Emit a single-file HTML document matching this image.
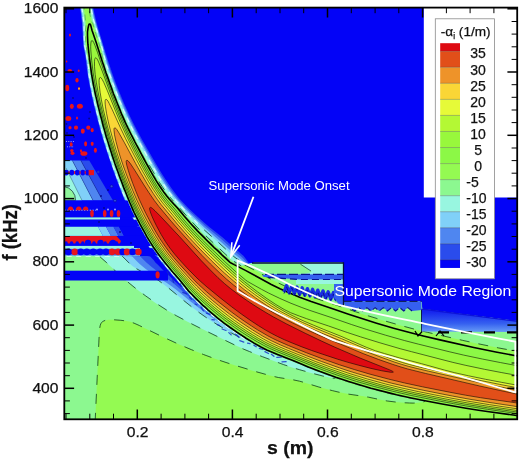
<!DOCTYPE html>
<html><head><meta charset="utf-8"><title>Growth rate contours</title>
<style>html,body{margin:0;padding:0;background:#fff}svg{display:block}text{font-family:"Liberation Sans",Arial,sans-serif}.k text{stroke:#111;stroke-width:.25px}</style>
</head><body>
<svg width="520" height="461" viewBox="0 0 520 461">
<rect width="520" height="461" fill="#fff"/>
<defs><clipPath id="pc"><rect x="64.3" y="7.6" width="452.9" height="411.7"/></clipPath></defs>
<g clip-path="url(#pc)">
<rect x="60" y="4" width="460" height="420" fill="#0303f7"/>
<path fill="#2a4cec" fill-rule="evenodd" d="M519.3,460.6L519.0,460.7L518.2,460.9L516.2,460.9L4.3,460.9L1.4,460.8L0.7,460.5L0.5,460.3L0.3,460.0L0.2,459.2L0.1,457.2L0.1,259.8L0.2,257.3L0.5,256.6L0.7,256.3L1.0,256.1L1.8,255.9L4.3,255.8L123.2,255.9L142.2,256.0L147.2,256.1L149.1,256.3L149.9,256.5L150.4,256.8L153.6,260.1L155.4,262.4L157.6,264.6L164.9,271.9L167.6,274.1L174.2,280.6L176.4,282.4L180.4,286.3L181.1,286.7L181.4,286.6L181.3,286.2L181.0,285.7L179.2,283.5L166.1,268.1L161.8,262.9L157.5,257.3L156.7,256.6L154.8,255.5L153.8,254.5L149.9,248.9L147.2,244.6L142.7,237.1L137.3,227.4L132.8,218.5L129.0,210.7L127.2,206.6L120.9,190.9L116.7,180.1L113.1,170.2L105.6,147.7L102.0,135.8L99.8,128.4L97.7,120.6L93.6,104.2L91.2,93.5L90.1,88.1L88.7,81.0L87.7,74.6L86.7,67.6L85.4,56.4L83.2,45.1L83.0,38.3L82.7,35.7L82.5,30.3L82.2,27.2L82.0,23.8L81.0,14.3L79.1,1.8L79.0,1.0L79.1,0.5L79.6,0.3L81.3,0.2L89.7,0.2L90.7,0.3L91.4,0.5L91.7,0.7L92.1,1.2L92.4,2.4L94.3,13.0L96.2,21.1L98.4,28.9L104.9,50.4L108.9,63.3L112.7,74.5L116.3,84.4L120.5,94.8L124.3,103.9L129.0,114.2L133.4,123.3L137.0,130.2L142.3,139.9L155.8,163.4L161.6,173.2L166.4,180.8L171.7,188.6L176.6,195.1L179.5,198.7L182.1,201.6L188.3,208.0L195.7,215.0L204.9,223.3L209.3,227.0L222.7,237.6L232.5,246.3L241.9,254.4L243.4,255.8L244.8,257.5L246.3,259.4L248.6,262.7L249.2,263.3L249.8,263.5L250.4,263.5L253.4,262.7L254.8,262.5L263.7,262.5L268.2,262.4L339.7,262.3L342.2,262.5L342.9,262.8L343.2,263.1L343.5,263.8L343.6,264.8L343.7,299.2L343.8,300.5L344.0,300.8L344.5,301.2L345.3,301.3L346.8,301.3L420.2,301.4L421.1,301.6L421.4,301.8L421.9,302.4L422.1,303.8L422.2,307.2L422.3,308.0L422.5,308.3L423.0,308.7L424.5,309.2L431.2,310.0L432.9,310.3L435.2,310.5L436.9,310.8L439.2,311.0L440.9,311.3L443.2,311.5L448.4,312.3L450.2,312.4L456.4,313.3L458.7,313.5L460.4,313.8L462.7,314.0L464.4,314.3L466.7,314.5L468.4,314.8L470.7,315.0L472.4,315.3L474.7,315.5L476.4,315.8L478.7,316.0L480.4,316.3L482.7,316.5L484.4,316.8L486.7,317.0L488.4,317.3L490.7,317.5L495.9,318.3L497.7,318.4L499.9,318.8L501.7,318.9L503.9,319.3L505.7,319.4L507.9,319.8L509.7,319.9L511.9,320.3L517.7,320.9L518.5,321.1L519.2,321.5L519.4,321.7L519.7,322.4L519.9,324.3L520.0,396.8L519.9,417.7L519.9,458.2L519.8,459.6L519.6,460.3L519.3,460.6Z"/>
<path fill="#4f86f0" fill-rule="evenodd" d="M519.3,460.5L519.0,460.7L518.2,460.8L516.2,460.9L3.8,460.8L1.4,460.8L0.7,460.5L0.5,460.3L0.3,460.0L0.2,459.2L0.2,457.2L0.2,259.8L0.2,257.3L0.5,256.6L0.7,256.4L1.0,256.2L1.8,256.0L4.8,255.9L120.2,256.0L134.7,256.1L138.2,256.2L139.6,256.3L140.2,256.6L140.8,257.0L146.4,262.4L151.7,267.0L157.6,271.6L169.7,280.6L174.2,284.1L177.2,286.6L186.0,294.3L191.1,298.7L198.5,304.5L190.0,295.7L186.7,292.1L178.9,282.4L170.5,272.7L165.7,267.0L161.9,262.3L158.0,257.3L157.2,256.5L155.5,255.7L154.7,255.1L153.6,253.7L150.9,249.8L147.4,244.3L142.2,235.5L137.9,227.8L134.1,220.6L130.7,213.5L127.9,207.4L120.8,189.9L116.7,179.1L112.2,166.6L107.5,152.7L103.8,140.9L100.9,130.9L97.9,119.9L94.3,105.5L91.7,94.1L89.9,85.3L88.4,77.3L87.6,71.7L87.2,67.0L85.7,56.1L83.6,45.2L82.5,24.3L81.4,14.3L79.6,2.2L79.6,1.4L79.9,0.7L80.4,0.4L81.3,0.2L88.7,0.2L90.5,0.4L90.8,0.5L91.3,1.0L91.6,2.1L93.6,13.1L95.4,20.8L97.9,29.3L101.9,42.3L107.6,62.1L109.8,68.9L113.0,78.2L116.2,86.6L119.4,94.8L123.6,104.7L127.4,113.3L131.3,121.5L135.8,130.5L141.4,140.8L154.3,163.5L159.8,172.9L164.4,180.3L167.4,184.9L170.2,189.0L172.8,192.5L175.4,195.8L178.4,199.4L181.5,202.8L186.1,207.7L190.0,211.7L196.9,218.3L205.0,225.7L209.9,229.8L220.6,238.6L235.4,251.8L241.4,256.8L243.7,259.0L246.7,262.5L247.4,263.3L248.0,263.6L249.2,263.7L250.8,263.5L253.1,262.8L254.3,262.6L263.7,262.6L268.2,262.4L339.7,262.4L342.2,262.6L342.9,262.9L343.1,263.1L343.4,263.8L343.5,264.8L343.6,299.2L343.8,300.5L343.9,300.8L344.5,301.2L345.3,301.4L346.8,301.4L420.2,301.5L421.1,301.7L421.4,301.9L421.8,302.4L422.0,303.8L422.1,307.2L422.3,308.0L422.4,308.4L422.9,308.8L424.4,309.3L431.2,310.1L432.9,310.3L435.2,310.6L436.9,310.8L439.2,311.1L440.9,311.3L443.2,311.6L448.4,312.3L458.7,313.6L460.4,313.8L462.7,314.1L464.4,314.3L466.7,314.6L468.4,314.8L470.7,315.1L472.4,315.3L474.7,315.6L476.4,315.8L478.7,316.1L480.4,316.3L482.7,316.6L484.4,316.8L486.7,317.1L488.4,317.3L490.7,317.6L495.9,318.3L498.2,318.6L499.9,318.8L502.2,319.1L503.9,319.3L506.2,319.6L507.9,319.8L517.7,321.0L518.9,321.3L519.4,321.8L519.6,322.1L519.8,322.8L519.8,324.3L520.0,400.7L519.9,417.7L519.9,458.2L519.8,459.6L519.5,460.3L519.3,460.5Z"/>
<path fill="#80d0f8" fill-rule="evenodd" d="M519.3,460.5L519.0,460.7L518.2,460.8L516.2,460.8L3.8,460.8L1.4,460.7L0.7,460.5L0.5,460.3L0.4,460.0L0.2,459.2L0.2,457.2L0.2,259.8L0.3,257.4L0.5,256.7L0.7,256.4L1.4,256.1L3.3,256.0L74.7,256.0L122.7,256.1L130.2,256.2L131.1,256.3L131.9,256.5L132.5,256.8L133.0,257.3L136.6,261.1L139.4,263.8L142.1,266.1L145.7,269.0L148.9,271.3L151.9,273.4L166.5,282.7L171.9,286.4L175.9,289.4L191.2,302.0L204.3,312.0L209.2,315.6L213.6,318.6L217.3,320.9L218.9,321.8L219.4,322.0L209.3,313.4L202.7,307.5L196.5,301.7L191.0,296.2L188.1,293.1L186.0,290.7L179.2,282.1L170.8,272.4L165.8,266.5L158.3,257.0L157.4,256.3L155.7,255.5L155.2,255.1L154.7,254.5L151.4,249.8L148.8,245.9L144.5,238.7L140.5,231.8L137.3,225.9L134.4,220.3L131.2,213.6L128.2,207.1L122.3,192.5L117.5,180.2L112.9,167.4L108.6,154.7L104.3,141.0L100.5,128.2L97.2,115.6L93.7,101.1L91.1,89.2L89.0,78.3L87.9,70.9L87.8,69.7L87.9,67.7L87.7,66.1L86.0,55.2L84.1,45.6L84.0,43.7L83.7,39.6L83.2,24.1L82.0,14.2L80.3,2.1L80.2,1.3L80.4,0.7L81.0,0.4L81.8,0.2L88.2,0.2L89.2,0.3L89.9,0.5L90.2,0.7L90.6,1.2L90.9,2.3L92.9,13.3L94.6,20.6L95.7,24.0L97.2,29.1L101.4,42.8L107.1,63.6L109.5,70.8L112.6,79.7L115.4,87.3L118.5,95.2L122.6,105.1L126.7,114.5L130.6,122.7L134.4,130.3L140.2,141.1L151.6,161.6L157.3,171.4L162.2,179.5L165.4,184.4L168.2,188.5L171.1,192.6L173.8,196.0L179.6,202.6L185.8,209.4L190.8,214.5L199.1,222.6L204.3,227.4L219.9,240.9L235.1,254.6L241.3,259.4L245.9,263.8L246.9,264.2L248.0,264.1L251.2,263.5L253.5,262.8L255.3,262.6L269.7,262.5L339.7,262.5L342.1,262.6L342.8,262.9L343.1,263.2L343.3,263.5L343.4,264.3L343.5,299.2L343.7,300.5L343.9,300.9L344.5,301.3L345.3,301.5L347.3,301.5L420.2,301.6L421.0,301.7L421.3,301.9L421.8,302.5L421.9,303.8L422.0,307.2L422.2,308.1L422.4,308.4L422.9,308.9L424.4,309.4L431.1,310.1L432.9,310.4L435.1,310.6L436.9,310.9L439.1,311.1L440.9,311.4L443.1,311.6L448.4,312.4L458.6,313.6L460.4,313.9L462.6,314.1L464.4,314.4L466.6,314.6L468.4,314.9L470.6,315.1L472.4,315.4L474.6,315.6L476.4,315.9L478.6,316.1L480.4,316.4L482.6,316.6L484.4,316.9L486.6,317.1L488.4,317.4L490.6,317.6L495.9,318.4L498.1,318.6L499.9,318.9L502.1,319.1L503.9,319.4L506.1,319.6L507.9,319.9L517.7,321.1L518.9,321.4L519.4,321.8L519.6,322.1L519.7,322.8L519.8,324.3L519.9,400.2L519.8,417.7L519.8,458.2L519.8,459.6L519.5,460.3L519.3,460.5Z"/>
<path fill="#98f6e0" fill-rule="evenodd" d="M519.3,460.5L519.0,460.7L518.2,460.8L516.2,460.8L3.8,460.8L1.4,460.7L0.7,460.5L0.5,460.3L0.3,459.6L0.2,457.7L0.2,259.3L0.2,257.8L0.4,257.0L0.7,256.5L1.0,256.3L1.8,256.2L3.8,256.1L97.7,256.1L119.7,256.2L121.2,256.3L122.0,256.4L122.6,256.7L123.1,257.1L130.7,264.6L132.4,265.9L134.7,267.6L137.8,269.5L145.9,273.9L148.9,275.4L152.7,277.1L155.1,278.2L156.6,279.2L161.6,282.7L165.8,285.9L170.9,289.9L183.5,300.3L191.2,306.5L199.2,312.6L206.5,317.7L212.9,321.9L217.8,324.9L232.0,333.3L236.5,335.8L240.4,337.8L244.6,339.7L246.5,340.5L246.9,340.5L237.5,334.3L229.8,329.0L222.9,323.9L216.2,318.6L208.8,312.4L200.9,305.3L194.3,299.0L188.7,293.1L185.6,289.6L179.4,281.8L166.8,267.0L163.0,262.3L159.0,257.2L158.5,256.7L157.9,256.3L156.5,255.6L156.0,255.3L154.4,253.4L151.6,249.2L149.4,245.9L143.4,235.9L138.5,227.2L132.8,216.0L130.7,211.6L128.4,206.4L123.1,193.2L117.8,179.5L113.0,166.3L107.6,150.2L103.4,136.4L99.8,123.6L95.8,108.0L92.8,95.0L91.3,88.0L89.8,80.0L88.8,74.0L88.3,70.6L88.5,67.7L88.3,65.9L86.5,55.2L84.7,45.6L84.4,42.7L84.1,34.7L84.0,30.7L84.0,26.3L83.9,24.3L82.9,15.3L81.0,1.8L80.9,1.1L81.1,0.6L81.5,0.3L82.3,0.2L87.7,0.2L89.0,0.4L89.3,0.6L89.7,1.1L90.0,2.2L92.2,13.6L93.7,20.5L94.1,21.7L94.9,23.8L96.5,29.3L100.6,42.6L102.4,48.9L105.3,60.5L106.4,64.8L109.1,72.7L112.2,81.5L117.7,96.0L122.2,107.0L125.7,115.0L129.5,123.2L133.5,131.2L139.4,142.4L149.7,161.0L154.4,169.3L159.5,177.8L162.6,182.7L165.9,187.8L169.1,192.2L171.5,195.3L173.7,198.0L177.0,201.8L186.8,212.5L190.4,216.3L198.4,224.3L202.8,228.5L207.7,233.0L218.6,242.6L233.2,256.0L234.9,257.4L239.9,260.9L243.7,264.0L244.3,264.4L244.9,264.6L246.0,264.6L250.8,263.6L253.5,262.8L255.3,262.7L339.2,262.6L342.1,262.7L342.8,263.0L343.0,263.2L343.2,263.5L343.3,264.3L343.4,298.7L343.4,299.7L343.6,300.6L343.8,300.9L344.4,301.4L345.3,301.6L346.8,301.6L418.2,301.6L420.6,301.7L421.3,302.0L421.5,302.2L421.8,302.9L421.9,306.7L422.1,308.1L422.3,308.4L422.9,308.9L424.4,309.4L431.1,310.2L433.3,310.6L435.1,310.7L437.3,311.1L439.1,311.2L441.3,311.6L443.1,311.7L448.3,312.5L450.6,312.7L452.3,313.0L454.6,313.2L456.3,313.5L458.6,313.7L460.3,314.0L462.6,314.2L464.3,314.5L466.6,314.7L468.3,315.0L470.6,315.2L472.3,315.5L474.6,315.7L476.3,316.0L478.6,316.2L484.8,317.1L486.6,317.2L488.3,317.5L490.6,317.7L495.8,318.5L498.1,318.7L499.8,319.0L502.1,319.2L503.8,319.5L506.1,319.7L507.8,320.0L517.7,321.2L518.8,321.4L519.4,321.8L519.5,322.1L519.7,322.9L519.8,324.3L519.9,400.2L519.8,417.7L519.8,458.2L519.7,460.0L519.3,460.5Z"/>
<path fill="#8cf890" fill-rule="evenodd" d="M519.3,460.5L519.0,460.6L518.2,460.8L516.2,460.8L3.8,460.8L1.4,460.7L0.7,460.5L0.5,460.3L0.3,459.6L0.2,457.7L0.2,259.3L0.3,257.8L0.4,257.0L0.7,256.5L1.0,256.4L1.8,256.3L3.3,256.2L95.7,256.2L98.2,256.3L99.4,256.5L100.2,257.0L106.4,262.4L111.2,267.1L114.6,270.1L118.2,273.6L126.7,281.1L135.2,288.0L139.7,291.5L146.0,296.2L151.6,300.2L156.3,303.4L160.5,306.2L167.0,310.3L176.5,315.8L182.3,319.0L189.5,322.8L199.2,327.6L237.5,346.3L247.2,350.6L253.5,353.2L260.0,355.8L282.5,364.2L288.9,366.4L296.9,368.9L310.1,372.7L320.7,375.5L326.0,376.7L331.0,377.8L333.9,378.3L334.7,378.3L332.6,377.3L323.8,374.1L314.4,370.4L295.2,362.6L279.0,356.2L272.3,353.4L266.5,350.8L262.4,348.8L258.8,346.9L249.4,341.4L239.0,334.7L228.6,327.6L224.0,324.2L219.5,320.7L214.5,316.7L209.7,312.6L204.4,307.9L199.4,303.3L195.1,299.2L191.1,295.1L186.9,290.4L179.7,281.5L171.2,271.6L165.7,265.0L159.3,256.9L157.2,254.5L152.5,247.8L149.7,243.5L146.2,237.6L142.9,231.9L139.9,226.4L136.6,220.2L134.0,214.8L131.4,209.3L129.3,204.5L121.4,184.8L118.1,176.1L115.4,168.4L111.9,158.3L108.6,148.1L105.9,139.4L103.3,130.5L100.8,121.5L98.1,111.1L95.9,101.8L93.8,92.4L91.3,79.9L89.7,69.6L89.2,67.1L87.1,55.2L85.4,46.3L85.1,43.2L84.7,35.1L84.7,31.3L84.9,26.2L84.8,23.9L83.9,16.3L81.9,1.9L81.9,1.1L82.0,0.6L82.5,0.3L83.3,0.2L86.7,0.2L87.9,0.5L88.2,0.6L88.6,1.1L89.0,2.3L91.3,14.4L92.8,20.9L93.2,22.1L94.3,24.5L95.7,29.6L98.8,39.4L100.3,44.4L101.8,50.0L105.0,63.2L105.2,64.3L105.2,65.8L105.4,66.9L109.9,79.9L114.2,91.6L118.0,101.3L121.9,110.9L125.7,119.6L129.5,127.7L134.0,136.7L138.5,145.3L147.3,161.5L152.9,171.4L156.8,178.0L160.4,183.8L164.2,189.5L167.6,194.2L171.4,198.9L179.3,207.5L186.5,215.8L195.1,225.1L202.8,232.9L211.3,240.9L230.2,258.6L231.8,260.0L233.0,260.8L240.2,265.1L241.1,265.5L241.7,265.6L243.2,265.4L247.2,264.5L251.2,263.6L253.5,262.9L254.8,262.7L339.7,262.7L342.1,262.8L342.8,263.0L343.0,263.2L343.1,263.5L343.2,264.3L343.3,298.7L343.4,299.7L343.6,300.6L343.8,300.9L344.4,301.4L345.3,301.6L347.3,301.7L418.2,301.7L420.6,301.8L421.3,302.0L421.6,302.5L421.7,303.3L421.8,306.7L422.0,308.1L422.2,308.5L422.8,309.0L424.4,309.5L427.1,309.8L429.3,310.2L431.1,310.3L433.3,310.7L435.1,310.8L437.3,311.2L439.1,311.3L441.3,311.7L443.1,311.8L448.8,312.7L454.6,313.3L456.8,313.7L458.6,313.8L460.8,314.2L462.6,314.3L464.8,314.7L466.6,314.8L468.8,315.2L470.6,315.3L472.8,315.7L474.6,315.8L476.8,316.2L478.6,316.3L480.8,316.7L482.6,316.8L484.8,317.2L486.6,317.3L488.8,317.7L490.6,317.8L496.3,318.7L498.1,318.8L500.3,319.2L502.1,319.3L504.3,319.7L506.1,319.8L508.3,320.2L510.1,320.3L512.3,320.7L518.1,321.3L518.8,321.5L519.3,321.9L519.5,322.2L519.7,322.9L519.8,324.3L519.9,399.7L519.8,417.7L519.8,458.2L519.6,460.0L519.3,460.5Z"/>
<path fill="#94fa52" fill-rule="evenodd" d="M519.3,460.5L519.0,460.6L518.2,460.7L516.2,460.8L109.7,460.8L95.8,460.7L94.4,460.6L93.8,460.3L93.6,460.0L93.4,459.2L93.5,457.2L99.2,334.9L99.6,329.3L99.9,327.1L100.3,325.1L100.9,323.6L101.7,322.4L102.5,321.7L103.7,321.0L105.2,320.4L107.2,320.0L109.0,319.8L112.7,319.7L120.9,320.3L124.2,320.6L127.6,321.2L129.2,321.5L131.1,322.1L134.1,323.2L139.3,325.5L153.0,332.3L159.8,335.5L166.9,338.9L177.5,343.7L191.2,349.6L203.7,354.6L215.7,359.1L230.0,363.8L238.4,366.4L256.1,371.7L269.8,375.5L274.2,376.6L278.3,377.5L293.0,379.8L299.6,381.2L303.9,382.4L318.8,387.0L323.5,388.3L332.2,390.6L340.7,392.6L348.3,394.1L363.5,396.3L368.6,397.2L381.8,400.0L387.3,401.0L395.3,402.0L400.8,402.6L408.8,403.0L412.2,403.1L415.7,403.0L419.7,402.6L423.6,401.9L424.1,401.7L424.3,401.5L424.0,401.2L422.1,400.8L408.4,397.9L397.7,395.6L384.0,392.2L374.5,389.7L364.4,386.9L355.9,384.4L346.3,381.4L332.2,376.6L316.9,370.9L307.9,367.3L294.8,361.9L277.6,355.2L272.3,353.0L267.1,350.6L262.7,348.5L258.5,346.2L252.8,342.9L246.9,339.3L240.8,335.4L234.5,331.2L228.9,327.3L223.7,323.5L219.0,319.8L213.7,315.5L208.6,311.1L203.6,306.7L199.2,302.6L194.6,298.1L190.5,293.8L187.4,290.4L180.3,281.5L168.5,267.8L164.4,262.8L160.9,258.3L157.0,253.2L153.3,247.9L150.8,244.0L147.4,238.4L142.8,230.4L139.0,223.3L135.1,215.6L131.9,208.8L129.5,203.3L124.0,189.7L120.3,180.0L117.2,171.6L113.4,160.8L109.7,149.5L106.4,138.8L103.3,128.0L100.6,118.1L97.4,105.3L95.2,95.6L93.2,86.1L91.7,78.1L90.4,69.8L89.7,66.5L86.1,45.2L85.7,40.0L85.5,32.8L85.6,30.3L86.0,26.2L86.0,24.3L85.5,19.3L83.3,2.5L83.2,1.3L83.5,0.7L83.7,0.5L84.4,0.3L85.2,0.3L86.1,0.4L86.7,0.7L86.9,0.9L87.3,1.5L90.2,15.5L91.4,20.8L91.8,22.0L92.7,23.5L93.2,24.6L94.5,29.7L97.5,38.7L98.8,42.9L100.3,48.4L104.1,63.6L104.6,66.6L105.1,68.2L111.9,87.4L115.5,97.2L118.6,105.1L121.9,112.9L124.7,119.5L127.7,126.0L131.2,133.1L138.5,147.3L149.7,168.0L156.4,179.4L159.5,184.3L162.4,188.8L166.4,194.3L169.5,198.2L178.3,207.9L184.1,214.7L188.3,219.5L195.5,227.3L202.1,234.1L209.9,241.8L229.5,260.3L230.6,261.2L231.5,261.8L238.2,265.5L239.4,266.1L240.1,266.1L240.8,266.1L244.4,265.4L245.0,265.4L246.0,265.7L254.3,270.0L271.3,279.4L278.6,283.1L284.7,286.0L290.6,288.6L296.2,291.0L303.4,293.8L309.9,296.3L315.9,298.4L335.8,304.9L351.0,310.2L363.0,314.2L373.3,317.4L384.1,320.7L395.3,323.9L406.3,327.0L417.8,330.0L429.0,332.7L466.5,341.3L478.8,343.9L491.7,346.6L503.4,348.8L517.7,351.5L518.5,351.7L519.2,352.0L519.4,352.2L519.6,352.9L519.8,354.8L519.9,397.2L519.8,418.2L519.8,458.2L519.6,460.0L519.3,460.5Z"/>
<path fill="#8cf846" fill-rule="evenodd" d="M519.3,415.5L518.7,415.7L518.0,415.6L507.0,414.2L485.5,411.2L469.0,408.7L457.0,406.6L443.5,404.2L425.0,400.7L410.0,397.7L396.5,394.7L390.0,393.1L376.9,389.8L371.0,388.2L360.1,385.1L348.6,381.6L335.8,377.3L320.1,371.6L308.3,366.9L295.5,361.6L277.6,354.6L271.6,352.1L266.8,349.9L261.4,347.3L254.1,343.1L245.7,338.0L237.6,332.6L230.2,327.5L224.4,323.3L217.4,317.8L207.9,309.8L205.1,307.2L202.9,305.4L195.3,297.9L188.7,291.1L186.2,288.1L181.6,282.2L179.3,279.5L173.9,273.4L165.9,263.8L161.9,258.8L157.2,252.5L153.5,247.3L150.4,242.4L147.2,237.1L143.1,229.7L139.9,223.9L134.2,212.6L131.4,206.4L129.8,202.5L123.9,187.9L119.8,177.0L114.9,163.4L111.3,152.6L106.4,136.9L103.3,126.0L101.8,120.5L99.3,110.6L95.9,96.4L93.8,86.5L91.8,75.5L90.8,68.5L89.3,57.0L88.4,49.3L87.9,44.2L87.5,35.7L87.5,31.8L87.7,29.9L88.0,28.3L88.7,25.1L89.0,24.4L89.2,24.1L89.4,24.0L90.0,24.0L90.2,24.2L90.6,24.8L92.0,30.3L94.1,36.2L96.2,42.6L101.8,59.9L106.1,73.0L109.5,82.7L113.5,93.7L117.2,103.0L121.3,113.4L124.8,121.4L127.8,127.9L135.0,142.2L144.2,159.5L149.5,169.2L153.3,175.9L156.9,181.8L160.4,187.3L163.7,192.0L166.7,196.0L169.4,199.3L171.6,201.6L173.9,204.3L177.4,207.9L183.7,215.6L190.2,223.0L193.4,226.4L197.2,230.6L209.9,243.4L214.2,247.6L217.4,250.4L221.9,254.8L226.4,258.9L229.1,261.6L230.6,262.7L233.8,264.5L245.4,270.4L251.9,273.8L271.0,284.3L280.0,288.8L289.6,293.1L299.6,297.2L311.2,301.6L334.1,309.2L348.2,314.1L358.7,317.6L376.2,323.1L390.9,327.4L408.9,332.4L423.3,336.0L439.9,339.9L473.8,347.5L493.3,351.5L517.7,356.1L518.8,356.4L519.3,356.8L519.5,357.1L519.7,357.8L519.8,359.3L519.8,408.8L519.7,414.2L519.6,415.0L519.3,415.5Z"/>
<path fill="#98f83c" fill-rule="evenodd" d="M519.4,413.5L518.8,413.7L517.7,413.6L503.2,411.6L484.4,408.9L468.8,406.4L448.1,402.7L426.7,398.6L413.3,395.9L403.5,393.8L394.5,391.7L386.1,389.6L376.2,387.0L366.4,384.3L357.2,381.6L348.4,378.9L339.7,376.0L325.0,370.7L309.5,364.7L296.8,359.5L283.2,354.1L276.4,351.3L269.5,348.3L263.5,345.3L257.4,341.9L249.9,337.4L242.2,332.5L234.5,327.3L227.8,322.5L222.4,318.4L216.0,313.3L209.8,308.0L204.2,303.0L199.0,298.2L194.2,293.5L190.1,289.1L187.8,286.5L182.2,279.6L174.2,270.5L169.4,264.8L164.7,259.0L160.8,253.9L157.0,248.7L154.0,244.3L149.8,237.5L146.1,231.2L142.2,224.1L138.9,217.8L135.6,211.1L132.7,205.0L127.3,191.9L123.3,181.9L119.4,171.4L115.6,160.7L111.4,147.9L107.8,136.4L104.6,125.2L101.7,114.1L98.9,102.8L96.7,92.6L94.6,81.7L93.1,72.6L91.7,60.6L91.2,55.2L90.8,49.9L90.7,46.7L90.8,43.9L91.1,41.8L91.5,40.8L91.9,40.5L92.1,40.5L92.4,40.6L92.8,41.0L93.7,42.5L94.9,45.3L97.6,52.7L106.7,79.1L112.6,95.6L118.6,111.1L121.6,118.2L124.3,124.4L127.5,131.3L131.2,139.0L135.8,148.0L140.7,157.5L145.3,166.0L149.0,172.7L152.7,179.1L156.3,185.0L161.5,192.8L164.0,196.3L166.2,199.1L168.9,202.3L175.7,210.0L184.8,220.9L192.3,229.4L201.1,238.6L210.6,248.1L227.5,264.2L237.5,273.2L244.8,279.4L246.8,280.9L248.0,281.7L260.2,288.5L267.0,292.2L274.0,295.7L281.5,299.2L287.1,301.6L292.8,304.0L306.1,309.1L313.6,311.7L331.2,317.5L344.6,322.2L353.9,325.3L372.9,331.3L392.6,337.2L408.6,341.6L428.2,346.5L453.9,352.8L469.4,356.3L489.3,360.4L502.7,363.0L517.5,365.8L519.0,366.2L519.5,366.7L519.6,367.0L519.8,368.8L519.8,408.8L519.7,412.6L519.5,413.3L519.4,413.5Z"/>
<path fill="#b4f834" fill-rule="evenodd" d="M519.3,412.0L518.8,412.2L518.1,412.2L511.1,411.2L487.1,407.7L469.8,405.0L449.4,401.3L428.5,397.3L414.8,394.5L404.9,392.4L395.9,390.3L387.9,388.3L378.8,385.9L369.4,383.4L360.1,380.7L351.3,378.0L342.6,375.1L327.5,369.8L311.2,363.6L279.2,350.6L271.9,347.4L266.1,344.6L260.6,341.6L253.7,337.6L246.6,333.2L239.4,328.4L232.9,323.9L226.8,319.5L221.1,315.1L215.3,310.4L209.1,305.1L202.5,299.2L197.2,294.1L192.0,288.8L189.1,285.6L183.0,278.3L172.5,266.3L168.4,261.4L164.8,256.9L160.5,251.2L156.8,246.0L154.0,241.7L150.4,235.8L146.4,228.9L143.0,222.8L139.2,215.5L136.1,209.2L132.8,202.0L127.2,188.5L123.2,178.5L119.0,167.2L115.6,157.2L111.9,145.9L108.6,135.1L105.8,125.0L102.9,113.9L100.0,101.7L98.0,91.8L96.4,82.8L95.2,74.6L94.5,66.7L94.4,63.7L94.5,61.3L94.7,59.4L95.0,58.3L95.5,57.9L95.7,57.9L96.3,58.1L96.7,58.5L97.7,60.1L98.9,62.8L101.5,69.3L111.3,95.9L116.3,108.9L119.1,115.7L121.9,122.3L127.6,134.7L131.0,141.7L135.4,150.4L144.7,168.1L148.6,175.1L151.9,180.8L155.0,185.8L158.1,190.7L162.6,197.2L166.3,201.9L174.2,211.0L180.1,218.2L184.7,223.6L190.1,229.7L196.1,236.2L201.7,242.0L208.5,248.8L224.8,264.5L232.9,271.8L241.0,278.8L250.9,286.8L260.3,294.0L268.8,300.0L277.3,305.4L284.2,309.5L289.9,312.3L298.1,315.6L305.5,318.3L328.3,325.9L346.9,332.4L360.8,336.9L371.5,340.3L382.6,343.6L394.6,347.1L404.4,349.8L444.9,360.4L458.9,363.8L472.1,366.7L485.7,369.5L500.8,372.5L517.7,375.6L518.8,375.9L519.3,376.3L519.5,376.6L519.7,377.3L519.8,378.8L519.8,409.2L519.7,411.1L519.5,411.8L519.3,412.0Z"/>
<path fill="#e6fa38" fill-rule="evenodd" d="M519.3,410.5L519.1,410.6L518.4,410.7L515.0,410.2L488.8,406.4L470.7,403.5L450.8,399.9L417.0,393.2L399.0,389.3L391.3,387.4L383.0,385.3L373.1,382.6L363.8,380.0L355.0,377.3L346.2,374.5L338.4,371.9L330.3,369.0L321.5,365.8L313.2,362.6L281.5,349.7L274.9,346.8L269.1,344.1L263.8,341.4L258.4,338.3L251.9,334.4L245.5,330.3L238.9,325.9L232.7,321.6L226.9,317.3L221.3,313.0L214.1,307.1L206.9,300.9L200.9,295.4L195.1,289.7L190.7,285.1L184.5,277.8L176.2,268.5L170.5,261.8L166.5,256.8L162.8,252.0L159.2,247.0L156.4,242.9L152.7,237.0L148.3,229.5L144.8,223.4L141.2,216.6L137.5,209.2L134.4,202.4L129.0,189.7L125.1,180.1L121.4,170.3L117.9,160.4L114.5,150.2L111.3,139.9L108.2,129.0L105.6,119.1L103.1,108.2L101.1,98.6L99.9,90.9L99.2,84.6L99.1,81.8L99.2,79.8L99.4,78.6L99.8,77.7L100.0,77.5L100.5,77.5L101.0,77.8L101.5,78.3L102.6,80.1L104.1,83.2L107.3,90.5L115.4,110.8L120.5,122.8L125.9,134.8L132.6,148.2L141.1,164.7L147.7,176.6L151.0,182.3L154.2,187.6L156.9,191.8L160.0,196.3L162.3,199.5L164.9,202.8L172.5,211.7L178.4,218.9L182.5,223.8L190.7,233.0L199.9,242.8L210.9,253.8L226.0,268.3L231.0,272.8L235.8,277.0L241.0,281.3L246.5,285.7L252.7,290.5L258.2,294.6L263.7,298.6L269.4,302.4L274.8,305.9L280.2,309.1L285.3,312.0L290.5,314.7L300.3,319.4L311.1,324.2L322.0,328.7L341.3,336.4L365.4,346.9L373.9,350.3L380.0,352.2L398.6,357.6L421.5,363.7L444.2,370.0L453.8,372.5L466.0,375.2L481.7,378.5L498.9,381.9L517.5,385.3L519.0,385.7L519.5,386.2L519.6,386.5L519.8,388.3L519.8,408.2L519.7,409.6L519.5,410.3L519.3,410.5Z"/>
<path fill="#fad636" fill-rule="evenodd" d="M519.3,408.7L519.0,408.8L518.2,408.9L516.5,408.7L490.4,404.9L473.2,402.1L462.9,400.3L452.4,398.4L421.1,392.2L403.4,388.3L395.3,386.4L387.3,384.4L377.8,381.9L368.4,379.3L359.5,376.7L350.8,374.0L342.1,371.1L333.9,368.3L325.1,365.1L316.0,361.7L307.8,358.5L285.4,349.4L278.7,346.5L272.9,343.9L268.2,341.6L263.6,339.1L258.2,336.0L252.6,332.6L246.8,328.9L240.5,324.7L234.6,320.6L228.9,316.4L223.8,312.5L218.5,308.3L213.3,304.0L207.9,299.3L202.9,294.8L198.8,291.0L194.5,286.7L191.6,283.6L185.6,276.7L179.2,269.6L174.3,264.0L169.5,258.2L165.3,252.9L161.1,247.2L157.4,241.8L153.4,235.4L148.8,227.5L145.0,220.7L141.4,213.8L138.0,206.8L135.0,200.3L130.1,188.7L126.2,179.1L122.6,169.6L119.1,159.6L115.9,149.8L113.2,140.6L110.5,130.8L108.3,121.9L106.6,113.7L105.5,106.8L105.2,104.1L105.1,101.8L105.2,100.4L105.5,99.7L105.6,99.5L106.2,99.3L106.4,99.4L106.9,99.8L108.0,101.2L109.2,103.5L112.2,109.6L120.6,128.1L125.6,138.6L135.4,157.8L142.6,171.2L147.6,180.1L152.5,188.2L157.0,195.2L161.2,201.0L164.3,204.9L171.2,213.1L177.2,220.5L183.9,228.3L195.1,240.6L205.2,251.1L212.0,257.8L221.6,267.1L229.5,274.3L234.6,278.7L239.8,283.0L246.2,288.0L252.2,292.6L257.9,296.8L263.8,300.9L269.5,304.7L274.8,308.0L279.8,311.0L284.9,313.8L290.5,316.7L296.9,319.8L305.1,323.6L313.8,327.4L323.7,331.5L341.9,338.8L366.1,349.2L373.6,352.2L391.1,358.7L399.3,361.5L406.5,363.7L413.2,365.5L423.7,368.0L461.3,376.4L475.3,379.5L496.0,383.7L517.4,387.8L519.0,388.2L519.5,388.7L519.6,389.0L519.8,390.8L519.8,406.7L519.6,408.1L519.3,408.7Z"/>
<path fill="#ee9329" fill-rule="evenodd" d="M519.3,406.5L519.0,406.7L518.4,406.7L516.7,406.5L491.9,402.8L474.7,400.1L455.6,396.7L426.8,391.0L407.8,387.0L392.4,383.4L375.4,378.9L358.7,374.1L349.5,371.2L340.5,368.2L331.6,365.2L321.7,361.5L306.6,355.7L288.4,348.3L280.3,344.9L275.5,342.7L271.1,340.6L267.2,338.6L263.0,336.3L258.0,333.3L252.4,329.8L246.6,326.1L241.0,322.3L235.4,318.4L229.6,314.1L223.9,309.8L218.7,305.6L212.4,300.4L206.5,295.3L201.3,290.5L196.7,286.1L191.8,281.0L179.2,267.0L173.2,260.1L169.3,255.4L165.9,250.9L162.3,246.0L159.2,241.5L154.8,234.4L150.8,227.5L146.8,220.4L142.9,212.8L139.8,206.5L136.9,200.3L132.7,190.5L129.5,182.7L126.1,173.7L122.9,164.9L120.3,157.0L118.0,149.3L115.9,141.3L114.5,134.7L114.1,132.1L114.0,130.3L114.0,128.8L114.3,128.1L114.5,127.9L115.1,127.9L115.9,128.4L117.2,130.1L119.1,133.1L124.5,142.8L135.7,163.6L141.0,173.2L147.1,183.7L152.9,192.9L157.1,199.2L160.5,203.7L176.1,222.6L181.0,228.3L186.6,234.6L193.3,242.0L198.6,247.6L209.0,258.2L221.7,270.5L229.9,277.9L238.3,284.9L249.1,293.2L259.3,300.5L264.7,304.1L269.8,307.4L275.1,310.6L280.2,313.6L285.1,316.2L291.0,319.2L303.5,325.2L311.1,328.6L319.2,332.1L341.5,341.2L364.4,350.9L374.1,354.7L392.1,361.2L399.9,363.8L407.3,366.0L414.4,367.8L425.3,370.5L461.6,378.7L476.7,382.0L495.3,385.9L517.5,390.3L518.7,390.6L519.3,390.9L519.5,391.2L519.7,391.9L519.8,392.8L519.8,404.7L519.6,406.0L519.3,406.5Z"/>
<path fill="#e14f19" fill-rule="evenodd" d="M519.3,403.0L518.8,403.2L517.2,403.0L487.1,398.7L469.0,395.8L452.1,392.7L424.5,387.2L405.6,383.2L389.4,379.3L370.9,374.4L355.0,369.8L339.8,364.9L322.4,358.8L307.5,353.2L289.0,345.8L283.0,343.2L277.9,340.9L272.8,338.4L268.2,336.0L263.4,333.3L258.1,330.1L251.7,326.1L245.1,321.7L238.3,317.0L231.9,312.3L225.4,307.3L219.6,302.7L212.2,296.6L206.3,291.5L198.7,284.6L195.9,281.9L193.2,279.1L183.1,268.2L178.8,263.4L173.7,257.5L169.5,252.3L165.9,247.4L162.4,242.4L159.4,237.8L156.0,232.2L152.6,226.2L149.3,220.0L145.7,213.1L142.3,206.0L139.1,199.1L135.9,191.4L132.8,183.5L130.4,176.9L128.3,170.5L126.8,165.4L126.4,163.4L126.2,162.1L126.2,161.3L126.4,160.6L126.6,160.4L127.1,160.3L128.0,160.8L129.2,162.1L130.5,163.8L133.9,168.9L143.7,184.6L148.8,192.5L154.1,200.2L158.6,206.2L171.1,221.1L177.4,228.4L191.5,244.2L199.7,253.0L208.4,261.9L218.5,271.8L225.0,277.8L231.4,283.3L239.8,289.9L249.3,296.9L258.8,303.5L267.9,309.3L276.4,314.4L284.5,318.8L295.4,324.3L307.0,329.8L317.4,334.4L328.6,339.2L358.5,351.7L371.4,356.8L384.7,361.6L394.7,365.0L403.5,367.8L412.5,370.2L427.8,374.0L472.8,384.4L495.7,389.5L518.4,394.4L519.0,394.7L519.3,394.9L519.5,395.1L519.7,395.9L519.7,401.7L519.6,402.5L519.3,403.0Z"/>
<path fill="#de0a12" fill-rule="evenodd" d="M393.2,372.2L392.2,372.3L390.1,372.2L386.6,371.7L381.9,370.8L370.9,368.4L358.5,365.2L347.9,362.3L337.6,359.2L322.5,354.2L311.4,350.4L301.9,346.9L292.2,343.0L284.5,339.8L277.7,336.6L271.7,333.5L265.6,330.1L258.8,325.9L251.6,321.2L241.6,314.2L231.5,306.7L220.3,297.9L207.1,287.1L200.7,281.5L196.1,277.2L186.9,267.8L180.7,261.1L174.6,254.1L170.0,248.2L165.3,241.4L161.2,234.6L158.7,230.1L156.3,225.5L154.0,220.8L152.1,216.6L150.7,213.0L149.9,210.4L149.6,208.7L149.6,208.0L149.8,207.7L150.3,207.4L150.9,207.4L151.5,207.8L152.4,208.4L155.0,210.8L160.0,215.8L164.9,220.9L179.1,236.2L194.3,253.0L201.4,260.8L210.0,269.7L217.8,277.5L224.3,283.4L230.6,288.6L238.6,294.7L247.7,301.0L254.0,305.2L260.5,309.3L267.0,313.2L273.7,317.1L279.8,320.4L286.7,324.0L305.1,333.2L321.6,341.1L334.7,347.1L350.3,353.9L360.2,358.1L389.8,369.9L391.9,370.9L392.8,371.4L393.4,371.9L393.3,372.1L393.2,372.2Z"/>
<filter id="bl" x="0" y="0" width="520" height="461" filterUnits="userSpaceOnUse"><feGaussianBlur stdDeviation="0.45"/></filter>
<g filter="url(#bl)"><path fill="none" stroke="#062a10" stroke-width="0.85" stroke-dasharray="10 9" stroke-opacity="0.85" d="M122.3,256.2L129.9,263.8L132.9,266.3L136.5,268.7L140.4,270.9L147.9,274.9L154.4,277.9L156.0,278.8L158.1,280.2L163.9,284.4L168.4,287.9L183.7,300.5L193.2,308.1L199.2,312.6L205.9,317.3L212.6,321.7L217.8,324.9L231.6,333.1L240.1,337.6L247.2,340.8M204.2,229.9L218.6,242.6L233.5,256.3L234.9,257.4L239.9,260.9L244.2,264.5"/>
<path fill="none" stroke="#eafff8" stroke-width="1.1" stroke-dasharray="5 4.5" stroke-opacity="0.9" d="M0.2,256.1L112.7,256.2L120.7,256.3L121.9,256.4L122.8,256.7M245.0,339.2L236.0,333.3L228.3,327.9L221.7,323.0L215.1,317.7L207.8,311.5L200.1,304.6L193.8,298.4L188.2,292.6L185.6,289.6L179.4,281.8L166.5,266.7L159.0,257.2L157.9,256.3L156.0,255.3L154.4,253.4L149.4,245.9L143.2,235.6L138.4,226.9L132.2,214.6L128.4,206.4L122.2,191.1L117.6,179.2L112.7,165.6L107.6,150.2L103.4,136.4L99.8,123.6L95.8,108.0L92.8,95.0L89.8,80.0L88.3,70.6L88.5,67.7L88.3,65.9L86.5,55.2L84.7,45.6L84.4,42.7L84.1,35.2L84.0,30.7L84.0,26.3L83.9,23.8L82.8,14.4L80.7,0.2M89.7,0.2L91.9,12.3L93.7,20.5L94.9,23.8L96.5,29.3L100.6,42.6L102.6,49.7L105.6,61.7L106.9,66.3L112.5,82.3L117.9,96.4L123.9,110.9L129.8,123.9L136.6,137.2L152.1,165.2L159.3,177.5L162.6,182.7L165.7,187.5L171.0,194.7L176.3,201.0L188.0,213.8L197.8,223.7"/>
<path fill="none" stroke="#062a10" stroke-width="0.85" stroke-dasharray="10 9" stroke-opacity="0.85" d="M99.8,256.5L101.0,257.7L106.6,262.6L111.2,267.1L118.2,273.6L126.7,281.1L135.2,288.0L145.8,296.0L156.0,303.2L166.7,310.1L176.5,315.8L189.8,322.9L199.5,327.8L237.8,346.5L243.3,349.0L249.6,351.6L262.5,356.7L283.3,364.5L291.1,367.1L299.2,369.6L312.8,373.4L322.8,376.0L331.8,378.0L334.2,378.3L335.3,378.2M149.4,165.2L156.2,177.0L159.4,182.3L162.6,187.2L165.5,191.3L168.2,195.0L170.7,198.0L173.5,201.2M179.9,208.2L187.2,216.6L194.9,224.9L201.6,231.7L209.0,238.8L231.2,259.5L232.7,260.6L241.2,265.8"/>
<path fill="none" stroke="#062a10" stroke-width="0.85" stroke-dasharray="10 9" stroke-opacity="0.85" d="M93.3,460.8L99.2,334.9L99.6,329.3L99.9,327.1L100.3,325.1L100.9,323.6L101.7,322.4L102.5,321.7L103.7,321.0L105.2,320.4L107.2,320.0L109.0,319.8L112.7,319.7L120.9,320.3L127.6,321.2L131.1,322.1L134.1,323.2L139.3,325.5L159.8,335.5L177.5,343.7L191.2,349.6L203.7,354.6L216.1,359.2L230.3,363.9L256.1,371.7L270.2,375.6L278.3,377.5L293.0,379.8L299.6,381.2L303.9,382.4L318.8,387.0L323.5,388.3L332.2,390.6L340.7,392.6L348.3,394.1L363.5,396.3L368.6,397.2L381.8,400.0L387.3,401.0L395.3,402.0L400.8,402.6L409.3,403.0L413.2,403.1L416.2,403.0L422.3,402.2L423.9,401.8L424.6,401.5L424.8,401.2M245.2,265.3L253.9,269.8L269.1,278.2L275.9,281.8L285.4,286.3L295.5,290.7L306.3,294.9L314.7,298.0L336.6,305.2L355.5,311.7L368.4,315.9L384.1,320.7L400.8,325.5L413.8,329.0L427.8,332.4L462.8,340.4L478.4,343.8L498.4,347.9L519.8,351.9"/>
<path fill="none" stroke="#0a4030" stroke-width="0.7" stroke-dasharray="6 5" stroke-opacity="0.45" d="M425.0,401.2L423.3,401.0L403.8,396.9L386.8,392.9L376.1,390.2L365.9,387.3L356.6,384.6L347.8,381.9L333.3,377.0L317.6,371.2L308.3,367.5L294.8,361.9L277.6,355.2L267.1,350.6L262.7,348.5L258.5,346.2L252.8,342.9L246.9,339.3L234.5,331.2L223.7,323.5L219.0,319.8L213.7,315.5L203.6,306.7L199.2,302.6L194.6,298.1L190.5,293.8L187.4,290.4L180.3,281.5L168.5,267.8L160.9,258.3L157.0,253.2L153.3,247.9L150.8,244.0L147.4,238.4L142.8,230.4L139.0,223.3L135.1,215.6L131.9,208.8L129.5,203.3L124.0,189.7L117.3,171.9L113.6,161.2L109.9,149.9L106.5,139.2L103.4,128.4L100.7,118.5L97.6,106.1L95.3,96.4L93.3,86.9L91.7,78.1L90.4,69.8L89.7,66.5L86.1,45.2L85.7,40.0L85.5,32.8L85.6,29.8L86.0,25.7L86.0,23.8L83.0,0.2M87.0,0.2L90.0,14.7L91.4,20.8L91.8,22.0L92.7,23.5L93.2,24.6L94.5,29.7L98.8,42.9L100.3,48.4L104.1,63.6L104.8,67.4L110.3,83.0L115.7,97.6L119.7,107.6L123.4,116.4L127.4,125.3L131.2,133.1L137.1,144.7L144.2,158.0L150.1,168.6L154.9,176.9L158.7,183.1L162.2,188.5L166.0,193.8L168.8,197.4L178.3,207.9L185.2,216.0L191.1,222.6L198.4,230.4L206.1,238.1L229.2,260.0L230.9,261.4L237.9,265.3L239.4,266.1L240.8,266.1L244.7,265.4L245.8,265.6"/>
<path fill="none" stroke="#000" stroke-width="1.6" d="M519.8,415.8L518.4,415.7L489.0,411.7L478.5,410.2L466.0,408.2L443.5,404.2L425.0,400.7L410.0,397.7L396.5,394.7L390.0,393.1L371.0,388.2L360.1,385.1L348.6,381.6L335.8,377.3L320.1,371.6L308.3,366.9L295.5,361.6L277.6,354.6L266.8,349.9L261.4,347.3L254.1,343.1L245.7,338.0L237.6,332.6L230.2,327.5L224.4,323.3L217.4,317.8L207.9,309.8L205.1,307.2L202.9,305.4L195.3,297.9L188.7,291.1L179.3,279.5L173.9,273.4L165.9,263.8L161.9,258.8L157.2,252.5L153.5,247.3L150.4,242.4L147.2,237.1L143.1,229.7L139.9,223.9L134.2,212.6L129.8,202.5L123.9,187.9L119.8,177.0L114.9,163.4L111.3,152.6L106.4,136.9L103.3,126.0L99.3,110.6L95.9,96.4L93.8,86.5L91.8,75.5L89.3,57.0L87.9,44.2L87.5,35.7L87.5,31.8L88.0,28.3L88.7,25.1L89.2,24.1L89.4,24.0L90.0,24.0L90.2,24.2L90.6,24.8L92.0,30.3L96.2,42.6L101.8,59.9L106.1,73.0L113.5,93.7L117.2,103.0L121.3,113.4L124.8,121.4L127.8,127.9L135.0,142.2L144.2,159.5L149.5,169.2L153.3,175.9L156.9,181.8L160.4,187.3L163.7,192.0L166.7,196.0L169.4,199.3L173.9,204.3L177.4,207.9L183.7,215.6L190.2,223.0L197.2,230.6L210.4,243.9L214.2,247.6L217.4,250.4L222.2,255.1L229.7,262.1L230.6,262.7L234.1,264.6L245.4,270.4L252.6,274.2L271.3,284.5L280.0,288.8L289.6,293.1L299.6,297.2L311.2,301.6L334.1,309.2L348.6,314.2L359.5,317.8L376.6,323.2L393.6,328.2L409.7,332.6L423.3,336.0L439.9,339.9L473.8,347.5L495.8,352.0L519.8,356.5"/>
<path fill="none" stroke="#000" stroke-width="0.7" stroke-opacity="0.8" d="M519.8,413.9L487.4,409.3L465.8,405.9L453.5,403.7L438.0,400.8L411.3,395.5L392.9,391.3L374.6,386.6L356.4,381.4L339.4,375.9L324.6,370.6L309.2,364.6L276.4,351.3L269.5,348.3L263.5,345.3L257.4,341.9L249.9,337.4L242.2,332.5L234.5,327.3L227.8,322.5L222.4,318.4L216.0,313.3L209.8,308.0L204.2,303.0L199.0,298.2L194.2,293.5L190.1,289.1L182.2,279.6L169.4,264.8L164.7,259.0L160.8,253.9L157.0,248.7L154.0,244.3L149.8,237.5L146.1,231.2L142.2,224.1L138.9,217.8L135.6,211.1L132.7,205.0L127.3,191.9L123.3,181.9L119.4,171.4L115.6,160.7L111.4,147.9L107.8,136.4L104.6,125.2L101.7,114.1L98.9,102.8L96.7,92.6L94.6,81.7L93.1,72.6L91.7,60.6L90.8,49.9L90.7,46.7L90.8,43.9L91.1,41.8L91.5,40.8L91.9,40.5L92.1,40.5L92.8,41.0L93.7,42.5L94.9,45.3L97.6,52.7L106.8,79.5L112.8,96.0L118.8,111.5L124.5,124.8L127.6,131.6L131.6,139.7L142.1,160.1L150.5,175.3L154.2,181.6L157.6,187.1L162.7,194.6L166.8,199.9L175.5,209.8L181.6,217.2L186.4,222.8L191.9,228.9L196.7,234.1L202.3,239.9L208.9,246.4L227.0,263.7L237.0,272.8L245.7,280.1L247.4,281.3L249.0,282.3L261.5,289.3L268.7,293.1L279.8,298.4L291.0,303.3L301.8,307.5L309.8,310.4L330.9,317.4L351.7,324.6L366.8,329.5L385.6,335.2L404.7,340.6L418.6,344.2L449.1,351.7L463.7,355.1L482.7,359.1L500.6,362.6L519.8,366.2"/>
<path fill="none" stroke="#000" stroke-width="0.7" stroke-opacity="0.8" d="M519.8,412.4L487.5,407.8L466.3,404.4L446.5,400.8L413.1,394.1L394.7,390.0L377.6,385.6L359.3,380.4L342.2,375.0L326.7,369.5L310.8,363.4L279.2,350.6L271.9,347.4L266.1,344.6L260.6,341.6L253.7,337.6L246.6,333.2L239.4,328.4L232.9,323.9L226.8,319.5L221.1,315.1L215.3,310.4L209.1,305.1L202.5,299.2L197.2,294.1L192.0,288.8L189.1,285.6L183.0,278.3L172.5,266.3L164.8,256.9L160.5,251.2L156.8,246.0L154.0,241.7L150.4,235.8L146.4,228.9L143.0,222.8L139.2,215.5L136.1,209.2L132.8,202.0L127.2,188.5L123.2,178.5L119.0,167.2L115.6,157.2L111.9,145.9L108.6,135.1L105.8,125.0L102.9,113.9L100.0,101.7L98.0,91.8L96.4,82.8L95.2,74.6L94.5,66.7L94.5,61.3L94.7,59.4L95.0,58.3L95.5,57.9L95.7,57.9L96.3,58.1L96.7,58.5L97.7,60.1L98.9,62.8L102.2,71.1L112.6,99.2L116.9,110.3L122.4,123.4L128.5,136.7L136.7,153.0L141.9,162.9L146.6,171.6L153.8,183.9L157.3,189.5L160.5,194.2L163.2,198.0L165.9,201.4L174.2,211.0L180.1,218.2L184.7,223.6L193.9,233.8L204.5,244.8L212.5,252.7L224.8,264.5L232.6,271.6L238.3,276.5L244.3,281.5L250.9,286.8L257.7,292.0L267.0,298.7L275.8,304.5L284.2,309.5L290.6,312.7L299.2,316.0L306.6,318.7L328.3,325.9L347.3,332.5L360.4,336.8L379.9,342.8L400.1,348.7L411.5,351.7L452.9,362.4L465.9,365.4L484.5,369.3L501.2,372.5L519.8,375.9"/>
<path fill="none" stroke="#000" stroke-width="0.7" stroke-opacity="0.8" d="M519.8,410.9L488.4,406.3L467.3,402.9L447.9,399.4L414.9,392.8L397.0,388.8L381.0,384.8L363.0,379.7L345.9,374.4L330.3,369.0L313.2,362.6L281.5,349.7L274.9,346.8L269.1,344.1L264.2,341.6L258.7,338.5L252.2,334.6L245.8,330.5L239.2,326.1L233.0,321.8L227.2,317.6L221.6,313.2L214.4,307.4L207.1,301.1L201.1,295.6L195.3,290.0L190.7,285.1L184.5,277.8L176.5,268.8L170.7,262.0L166.7,257.1L163.0,252.3L159.4,247.3L156.4,242.9L152.7,237.0L148.3,229.5L144.8,223.4L141.4,216.9L137.5,209.2L134.4,202.4L129.5,190.8L125.4,180.8L121.7,171.1L118.1,161.1L114.9,151.4L111.7,141.1L108.5,130.2L105.8,119.9L103.3,109.4L101.4,99.9L100.1,92.2L99.3,85.5L99.1,82.7L99.1,80.3L99.3,78.9L99.6,77.9L100.0,77.5L100.3,77.5L100.8,77.6L101.2,78.0L102.2,79.5L103.8,82.5L107.1,90.1L115.7,111.5L120.9,123.8L127.1,137.2L134.7,152.5L142.5,167.3L149.3,179.5L155.5,189.7L158.7,194.5L161.4,198.3L165.4,203.4L172.5,211.7L180.4,221.3L185.5,227.2L196.0,238.7L206.1,249.1L223.7,266.1L232.6,274.2L238.5,279.2L244.6,284.2L251.0,289.2L257.6,294.2L267.6,301.2L277.0,307.2L285.9,312.3L295.9,317.4L304.1,321.2L313.5,325.2L323.4,329.3L341.0,336.3L366.1,347.2L375.4,350.8L384.6,353.6L399.8,358.0L421.5,363.7L444.6,370.1L454.2,372.6L468.5,375.8L485.5,379.3L501.8,382.4L519.8,385.7"/>
<path fill="none" stroke="#000" stroke-width="0.7" stroke-opacity="0.8" d="M519.8,409.2L489.5,404.7L468.0,401.2L449.9,397.9L418.2,391.6L401.0,387.8L385.7,384.0L367.3,379.0L350.0,373.7L333.6,368.2L315.7,361.6L285.4,349.4L278.7,346.5L272.9,343.9L268.2,341.6L263.6,339.1L252.6,332.6L240.5,324.7L234.6,320.6L228.9,316.4L218.5,308.3L207.9,299.3L198.8,291.0L194.5,286.7L191.6,283.6L174.3,264.0L169.5,258.2L165.3,252.9L161.1,247.2L157.4,241.8L153.4,235.4L148.8,227.5L145.0,220.7L141.4,213.8L138.0,206.8L135.0,200.3L130.1,188.7L126.2,179.1L122.6,169.6L119.1,159.6L115.9,149.8L113.2,140.6L110.5,130.8L108.3,121.9L106.6,113.7L105.5,106.8L105.2,104.1L105.1,101.8L105.2,100.4L105.5,99.7L105.6,99.5L106.2,99.3L106.9,99.8L108.0,101.2L109.2,103.5L112.2,109.6L120.6,128.1L125.6,138.6L135.6,158.1L142.9,171.8L148.2,181.1L153.1,189.2L158.1,196.7L162.1,202.2L178.4,221.9L186.5,231.2L198.3,244.0L204.4,250.3L210.7,256.6L224.0,269.3L229.2,274.0L234.6,278.7L240.9,283.9L247.9,289.4L254.5,294.3L261.2,299.1L271.4,305.9L281.1,311.7L290.9,316.9L302.7,322.5L315.9,328.3L341.6,338.7L367.9,349.9L383.4,355.9L395.1,360.1L402.7,362.6L409.7,364.6L417.7,366.6L428.6,369.1L463.4,376.9L479.0,380.2L499.8,384.4L519.8,388.2"/>
<path fill="none" stroke="#000" stroke-width="0.7" stroke-opacity="0.8" d="M519.8,407.0L491.0,402.7L470.0,399.3L452.6,396.1L423.9,390.4L406.6,386.7L391.2,383.1L374.2,378.5L357.9,373.8L348.8,371.0L339.8,368.0L321.3,361.4L306.2,355.6L288.4,348.3L280.3,344.9L271.1,340.6L263.0,336.3L252.4,329.8L241.0,322.3L229.6,314.1L218.7,305.6L212.4,300.4L206.5,295.3L201.3,290.5L196.7,286.1L191.8,281.0L179.2,267.0L173.2,260.1L169.3,255.4L165.9,250.9L162.3,246.0L159.2,241.5L154.8,234.4L150.8,227.5L146.8,220.4L142.9,212.8L139.8,206.5L136.9,200.3L132.7,190.5L129.5,182.7L126.1,173.7L122.9,164.9L120.3,157.0L118.0,149.3L115.9,141.3L114.5,134.7L114.0,130.3L114.0,128.8L114.3,128.1L114.5,127.9L115.1,127.9L115.9,128.4L117.0,129.8L118.9,132.8L124.5,142.8L135.7,163.6L141.2,173.5L147.3,184.0L153.3,193.5L157.3,199.4L160.9,204.3L178.2,225.1L189.2,237.5L200.6,249.7L211.5,260.7L219.9,268.8L224.3,272.9L233.7,281.1L244.2,289.5L255.5,297.8L266.2,305.1L275.4,310.8L284.7,316.0L296.0,321.7L308.4,327.4L320.9,332.8L341.2,341.1L366.2,351.6L381.0,357.2L394.3,362.0L401.8,364.4L408.8,366.4L417.2,368.5L428.6,371.2L462.8,378.9L479.2,382.5L499.9,386.8L519.8,390.7"/>
<path fill="none" stroke="#000" stroke-width="0.7" stroke-opacity="0.8" d="M519.8,403.4L497.5,400.2L480.6,397.7L465.6,395.2L449.6,392.2L422.4,386.8L404.3,382.9L388.6,379.1L370.1,374.2L354.2,369.5L339.5,364.8L322.1,358.7L306.8,352.9L288.6,345.6L277.5,340.7L272.5,338.3L267.9,335.9L257.8,330.0L251.7,326.1L244.8,321.5L238.3,317.0L231.6,312.1L219.6,302.7L212.2,296.6L206.3,291.5L198.7,284.6L193.2,279.1L178.8,263.4L173.7,257.5L169.5,252.3L165.9,247.4L162.4,242.4L159.4,237.8L156.0,232.2L152.6,226.2L149.3,220.0L145.7,213.1L142.3,206.0L139.1,199.1L135.9,191.4L132.8,183.5L130.4,176.9L128.3,170.5L126.8,165.4L126.2,162.1L126.2,161.3L126.4,160.6L126.6,160.4L127.1,160.3L128.0,160.8L129.2,162.1L130.5,163.8L133.9,168.9L143.9,184.9L149.0,192.8L154.3,200.5L158.8,206.4L171.3,221.4L178.1,229.2L192.5,245.2L201.9,255.3L210.4,263.9L219.8,273.0L226.6,279.2L233.4,284.9L242.7,292.1L252.5,299.2L262.4,305.9L272.0,311.8L281.5,317.2L292.4,322.8L304.9,328.8L318.7,335.0L328.9,339.3L363.9,353.9L378.4,359.4L392.8,364.4L400.0,366.7L407.4,368.9L425.4,373.4L479.7,386.0L500.2,390.5L519.8,394.6"/>
<path fill="none" stroke="#000" stroke-width="0.7" stroke-opacity="0.8" d="M393.2,372.2L392.2,372.3L390.1,372.2L381.9,370.8L370.9,368.4L358.5,365.2L347.9,362.3L337.6,359.2L322.5,354.2L311.4,350.4L301.9,346.9L292.2,343.0L284.5,339.8L277.7,336.6L271.7,333.5L265.6,330.1L258.8,325.9L251.6,321.2L241.6,314.2L231.5,306.7L220.3,297.9L207.1,287.1L200.7,281.5L196.1,277.2L186.9,267.8L180.7,261.1L174.6,254.1L170.0,248.2L165.3,241.4L161.2,234.6L156.3,225.5L154.0,220.8L152.1,216.6L150.7,213.0L149.9,210.4L149.6,208.7L149.6,208.0L149.8,207.7L150.3,207.4L150.9,207.4L152.4,208.4L155.0,210.8L160.0,215.8L179.1,236.2L194.3,253.0L201.4,260.8L210.0,269.7L217.8,277.5L224.3,283.4L230.6,288.6L238.6,294.7L247.7,301.0L254.0,305.2L260.5,309.3L267.0,313.2L273.7,317.1L286.7,324.0L305.1,333.2L321.6,341.1L334.7,347.1L360.2,358.1L389.8,369.9L392.8,371.4L393.4,371.9L393.2,372.2"/></g>
<clipPath id="lz"><path d="M519.8,461.0L0.2,461.0L0.0,460.8L0.0,0.2L0.2,0.0L83.2,0.0L83.5,0.2L83.5,0.8L84.0,1.2L84.0,3.8L84.5,4.2L84.5,6.8L85.0,7.2L85.0,9.8L85.5,10.2L85.5,12.8L86.0,13.2L86.0,15.8L86.5,16.2L86.5,18.8L87.0,19.2L87.0,21.2L87.5,21.8L87.5,26.8L87.0,27.2L87.0,28.8L86.5,29.2L86.5,43.2L87.0,43.8L87.0,49.2L87.5,49.8L87.5,53.8L88.0,54.2L88.0,58.2L88.5,58.8L88.5,62.2L89.0,62.8L89.0,66.2L89.5,66.8L89.5,70.2L90.0,70.8L90.0,73.8L90.5,74.2L90.5,76.8L91.0,77.2L91.0,79.8L91.5,80.2L91.5,82.2L92.0,82.8L92.0,85.2L92.5,85.8L92.5,87.8L93.0,88.2L93.0,90.2L93.5,90.8L93.5,92.2L94.0,92.8L94.0,94.8L94.5,95.2L94.5,97.2L95.0,97.8L95.0,99.2L95.5,99.8L95.5,101.2L96.0,101.8L96.0,103.2L96.5,103.8L96.5,105.8L97.0,106.2L97.0,107.8L97.5,108.2L97.5,109.8L98.0,110.2L98.0,111.8L98.5,112.2L98.5,113.8L99.0,114.2L99.0,115.8L99.5,116.2L99.5,117.8L100.0,118.2L100.0,119.8L100.5,120.2L100.5,121.2L101.0,121.8L101.0,123.2L101.5,123.8L101.5,125.2L102.0,125.8L102.0,126.8L102.5,127.2L102.5,128.8L103.0,129.2L103.0,130.8L103.5,131.2L103.5,132.2L104.0,132.8L104.0,133.8L104.5,134.2L104.5,135.8L105.0,136.2L105.0,137.2L105.5,137.8L105.5,139.2L106.0,139.8L106.0,140.8L106.5,141.2L106.5,142.2L107.0,142.8L107.0,143.8L107.5,144.2L107.5,145.8L108.0,146.2L108.0,147.2L108.5,147.8L108.5,148.8L109.0,149.2L109.0,150.2L109.5,150.8L109.5,151.8L110.0,152.2L110.0,153.2L110.5,153.8L110.5,154.8L111.0,155.2L111.0,156.2L111.5,156.8L111.5,157.8L112.0,158.2L112.0,159.2L112.5,159.8L112.5,160.8L113.0,161.2L113.0,162.2L113.5,162.8L113.5,163.8L114.0,164.2L114.0,165.2L114.5,165.8L114.5,166.8L115.0,167.2L115.0,168.2L115.5,168.8L115.5,169.8L116.5,171.2L116.5,172.2L117.0,172.8L117.0,173.8L117.5,174.2L117.5,175.2L118.5,176.8L118.5,177.8L119.0,178.2L119.0,179.2L120.0,180.8L120.0,181.8L120.5,182.2L120.5,183.2L121.0,183.8L121.0,184.2L121.5,184.8L121.5,185.8L122.5,187.2L122.5,188.2L123.0,188.8L123.0,189.8L124.0,191.2L124.0,192.2L125.0,193.8L125.0,194.8L125.5,195.2L125.5,195.8L126.0,196.2L126.0,197.2L127.0,198.8L127.0,199.8L127.5,200.2L127.5,200.8L128.0,201.2L128.0,201.8L128.5,202.2L128.5,203.2L129.5,204.8L129.5,205.8L130.0,206.2L130.0,206.8L130.5,207.2L130.5,207.8L131.0,208.2L131.0,208.8L131.5,209.2L131.5,210.2L132.5,211.8L132.5,212.2L133.0,212.8L133.0,213.2L133.5,213.8L133.5,214.2L134.0,214.8L134.0,215.2L134.5,215.8L134.5,216.2L135.0,216.8L135.0,217.2L135.5,217.8L135.5,218.2L136.0,218.8L136.0,219.2L136.5,219.8L136.5,220.2L137.0,220.8L137.0,221.2L137.5,221.8L137.5,222.2L138.0,222.8L138.0,223.2L139.0,224.8L139.0,225.2L139.5,225.8L139.5,226.2L140.0,226.8L140.0,227.2L141.0,228.2L141.0,228.8L141.5,229.2L141.5,229.8L142.0,230.2L142.0,230.8L142.5,231.2L142.5,231.8L143.5,232.8L143.5,233.2L144.0,233.8L144.0,234.2L144.5,234.8L144.5,235.2L145.5,236.2L145.5,236.8L146.0,237.2L146.0,237.8L146.5,238.2L146.5,238.8L147.5,239.8L147.5,240.2L148.0,240.8L148.0,241.2L149.0,242.2L149.0,242.8L150.0,243.8L150.0,244.2L150.5,244.8L150.5,245.2L151.5,246.2L151.5,246.8L152.5,247.8L152.5,248.2L153.5,249.2L153.5,249.8L154.5,250.8L154.5,251.2L156.0,252.8L156.0,253.2L157.0,254.2L157.0,254.8L158.5,256.2L158.5,256.8L160.0,258.2L160.0,258.8L162.0,260.8L162.0,261.2L164.0,263.2L164.0,263.8L166.0,265.8L166.0,266.2L168.5,268.8L168.5,269.2L171.5,272.2L171.5,272.8L174.5,275.8L174.5,276.2L177.5,279.2L177.5,279.8L180.5,282.8L180.5,283.2L182.5,285.2L182.5,285.8L184.0,287.2L184.0,287.8L186.0,289.8L186.0,290.2L191.0,295.2L191.0,295.8L197.8,302.5L198.2,302.5L204.2,308.5L204.8,308.5L208.8,312.5L209.2,312.5L212.2,315.5L212.8,315.5L215.2,318.0L215.8,318.0L217.8,320.0L218.2,320.0L220.2,322.0L220.8,322.0L222.2,323.5L222.8,323.5L224.2,325.0L224.8,325.0L226.2,326.5L226.8,326.5L228.2,328.0L228.8,328.0L229.8,329.0L230.2,329.0L231.8,330.5L232.2,330.5L233.2,331.5L233.8,331.5L234.8,332.5L235.2,332.5L236.2,333.5L236.8,333.5L237.8,334.5L238.2,334.5L239.2,335.5L239.8,335.5L240.8,336.5L241.2,336.5L242.2,337.5L242.8,337.5L243.8,338.5L244.2,338.5L244.8,339.0L245.2,339.0L246.2,340.0L246.8,340.0L247.8,341.0L248.2,341.0L248.8,341.5L249.2,341.5L250.2,342.5L250.8,342.5L251.2,343.0L251.8,343.0L252.8,344.0L253.2,344.0L253.8,344.5L254.2,344.5L255.2,345.5L255.8,345.5L256.2,346.0L256.8,346.0L257.2,346.5L257.8,346.5L258.8,347.5L259.2,347.5L259.8,348.0L260.2,348.0L261.8,349.0L262.2,349.0L262.8,349.5L263.2,349.5L263.8,350.0L264.2,350.0L264.8,350.5L265.2,350.5L265.8,351.0L266.2,351.0L266.8,351.5L267.2,351.5L267.8,352.0L268.2,352.0L268.8,352.5L269.8,352.5L270.2,353.0L270.8,353.0L272.2,354.0L273.2,354.0L273.8,354.5L274.2,354.5L274.8,355.0L275.2,355.0L275.8,355.5L276.8,355.5L278.2,356.5L279.2,356.5L280.8,357.5L281.8,357.5L283.2,358.5L284.2,358.5L284.8,359.0L285.8,359.0L287.2,360.0L288.2,360.0L289.8,361.0L290.8,361.0L292.2,362.0L293.2,362.0L294.8,363.0L295.8,363.0L297.2,364.0L298.2,364.0L299.8,365.0L300.8,365.0L301.2,365.5L301.8,365.5L303.2,366.5L304.2,366.5L305.8,367.5L306.8,367.5L308.2,368.5L309.2,368.5L310.8,369.5L311.8,369.5L313.2,370.5L314.2,370.5L315.8,371.5L316.8,371.5L318.2,372.5L319.2,372.5L319.8,373.0L320.8,373.0L322.2,374.0L323.2,374.0L323.8,374.5L324.8,374.5L326.2,375.5L327.2,375.5L327.8,376.0L328.8,376.0L329.2,376.5L330.2,376.5L331.8,377.5L332.8,377.5L333.2,378.0L334.2,378.0L334.8,378.5L335.8,378.5L336.2,379.0L337.2,379.0L337.8,379.5L338.8,379.5L339.2,380.0L340.2,380.0L340.8,380.5L341.8,380.5L342.2,381.0L343.2,381.0L343.8,381.5L344.8,381.5L345.2,382.0L346.2,382.0L346.8,382.5L347.8,382.5L348.2,383.0L349.2,383.0L349.8,383.5L350.8,383.5L351.2,384.0L352.2,384.0L352.8,384.5L354.2,384.5L354.8,385.0L355.8,385.0L356.2,385.5L357.2,385.5L357.8,386.0L359.2,386.0L359.8,386.5L360.8,386.5L361.2,387.0L362.8,387.0L363.2,387.5L364.2,387.5L364.8,388.0L366.2,388.0L366.8,388.5L367.8,388.5L368.2,389.0L369.8,389.0L370.2,389.5L371.2,389.5L371.8,390.0L373.2,390.0L373.8,390.5L375.2,390.5L375.8,391.0L376.8,391.0L377.2,391.5L378.8,391.5L379.2,392.0L380.8,392.0L381.2,392.5L382.8,392.5L383.2,393.0L384.8,393.0L385.2,393.5L386.8,393.5L387.2,394.0L388.8,394.0L389.2,394.5L390.8,394.5L391.2,395.0L392.8,395.0L393.2,395.5L394.8,395.5L395.2,396.0L397.2,396.0L397.8,396.5L399.2,396.5L399.8,397.0L401.2,397.0L401.8,397.5L403.8,397.5L404.2,398.0L406.2,398.0L406.8,398.5L408.2,398.5L408.8,399.0L410.8,399.0L411.2,399.5L413.2,399.5L413.8,400.0L415.8,400.0L416.2,400.5L418.2,400.5L418.8,401.0L420.8,401.0L421.2,401.5L423.2,401.5L423.8,402.0L425.8,402.0L426.2,402.5L428.8,402.5L429.2,403.0L431.2,403.0L431.8,403.5L433.8,403.5L434.2,404.0L436.2,404.0L436.8,404.5L439.2,404.5L439.8,405.0L441.8,405.0L442.2,405.5L444.2,405.5L444.8,406.0L447.2,406.0L447.8,406.5L449.8,406.5L450.2,407.0L452.8,407.0L453.2,407.5L455.2,407.5L455.8,408.0L458.2,408.0L458.8,408.5L461.2,408.5L461.8,409.0L463.8,409.0L464.2,409.5L467.2,409.5L467.8,410.0L470.2,410.0L470.8,410.5L473.2,410.5L473.8,411.0L476.8,411.0L477.2,411.5L479.8,411.5L480.2,412.0L483.2,412.0L483.8,412.5L486.8,412.5L487.2,413.0L490.2,413.0L490.8,413.5L493.8,413.5L494.2,414.0L497.8,414.0L498.2,414.5L501.2,414.5L501.8,415.0L504.8,415.0L505.2,415.5L508.8,415.5L509.2,416.0L512.2,416.0L512.8,416.5L515.8,416.5L516.2,417.0L519.8,417.0L520.0,417.2L520.0,460.8L519.8,461.0Z"/></clipPath>
<g clip-path="url(#lz)">
<path d="M64.0,160.4 L72.3,160.4 L93.0,200.4 L64.0,200.4 Z" fill="#80d0f8"/>
<path d="M64.0,168.0 L66.0,168.0 L82.0,200.4 L64.0,200.4 Z" fill="#98f6e0"/>
<path d="M72.3,160.4 L80.8,160.4 L102.6,200.4 L93.0,200.4 Z" fill="#4f86f0"/>
<path d="M80.8,160.4 L89.3,160.4 L113.0,200.4 L102.6,200.4 Z" fill="#2a4cec"/>
<path d="M64,186.5A13.5,13.5 0 0 1 75.5,200.4L64,200.4Z" fill="#8ff79c" stroke="#123" stroke-width="0.7"/>
<path d="M72.3,160.4L93,200.4M80.8,160.4L102.6,200.4M66,168L82,200.4" stroke="#124" stroke-opacity="0.6" stroke-width="0.6" fill="none"/>
<ellipse cx="66.3" cy="172.6" rx="2.6" ry="2.8" fill="#0303f7"/>
<ellipse cx="71.8" cy="172.6" rx="2.6" ry="2.8" fill="#0303f7"/>
<ellipse cx="77.3" cy="172.6" rx="2.6" ry="2.8" fill="#0303f7"/>
<ellipse cx="82.8" cy="172.6" rx="2.6" ry="2.8" fill="#0303f7"/>
<ellipse cx="87.5" cy="172.6" rx="2.6" ry="2.8" fill="#0303f7"/>
<ellipse cx="69.0" cy="172.6" rx="0.6" ry="1.8" fill="#e8141c"/>
<ellipse cx="74.6" cy="172.6" rx="0.6" ry="1.8" fill="#e8141c"/>
<ellipse cx="80.0" cy="172.6" rx="0.6" ry="1.8" fill="#e8141c"/>
<ellipse cx="85.2" cy="172.6" rx="0.6" ry="1.8" fill="#e8141c"/>
<rect x="88.6" y="170.0" width="5.4" height="5.2" fill="#e8141c"/>
<ellipse cx="98.3" cy="172.0" rx="1.2" ry="1.2" fill="#2030d0"/>
<rect x="64.0" y="200.4" width="140.0" height="17.0" fill="#0303f7"/>
<rect x="64.0" y="217.4" width="56.0" height="2.3" fill="#98f6e0"/>
<rect x="64.0" y="219.7" width="140.0" height="7.0" fill="#0303f7"/>
<path d="M64.0,226.7 L98.0,226.7 L103.0,235.9 L64.0,235.9 Z" fill="#98f6e0"/>
<path d="M98.0,226.7 L106.0,226.7 L111.0,235.9 L103.0,235.9 Z" fill="#80d0f8"/>
<path d="M106.0,226.7 L113.5,226.7 L118.5,235.9 L111.0,235.9 Z" fill="#4f86f0"/>
<path d="M113.5,226.7 L119.0,226.7 L124.0,235.9 L118.5,235.9 Z" fill="#2a4cec"/>
<path d="M119.0,226.7 L160.0,226.7 L160.0,235.9 L124.0,235.9 Z" fill="#0303f7"/>
<rect x="64.0" y="235.9" width="140.0" height="10.2" fill="#0303f7"/>
<path d="M64.0,235.9 L116.5,235.9 L121.0,241.0 L120.0,243.4 L64.0,243.4 Z" fill="#e8141c"/>
<ellipse cx="66.0" cy="243.6" rx="1.8" ry="2.3" fill="#0303f7"/>
<ellipse cx="71.6" cy="243.6" rx="1.8" ry="2.3" fill="#0303f7"/>
<ellipse cx="77.2" cy="243.6" rx="1.8" ry="2.3" fill="#0303f7"/>
<ellipse cx="82.8" cy="243.6" rx="1.8" ry="2.3" fill="#0303f7"/>
<ellipse cx="88.4" cy="243.6" rx="1.8" ry="2.3" fill="#0303f7"/>
<ellipse cx="94.0" cy="243.6" rx="1.8" ry="2.3" fill="#0303f7"/>
<ellipse cx="99.6" cy="243.6" rx="1.8" ry="2.3" fill="#0303f7"/>
<ellipse cx="105.2" cy="243.6" rx="1.8" ry="2.3" fill="#0303f7"/>
<ellipse cx="110.8" cy="243.6" rx="1.8" ry="2.3" fill="#0303f7"/>
<ellipse cx="116.4" cy="243.6" rx="1.8" ry="2.3" fill="#0303f7"/>
<ellipse cx="88.0" cy="242.6" rx="3.1" ry="2.8" fill="#0303f7"/>
<ellipse cx="100.5" cy="242.6" rx="3.1" ry="2.8" fill="#0303f7"/>
<ellipse cx="113.0" cy="242.6" rx="3.1" ry="2.8" fill="#0303f7"/>
<rect x="64.0" y="245.9" width="70.0" height="2.2" fill="#98f6e0"/>
<rect x="64.0" y="248.1" width="140.0" height="7.6" fill="#0303f7"/>
<rect x="64.0" y="248.1" width="76.0" height="1.2" fill="#98f6e0"/>
<rect x="64.0" y="254.6" width="76.0" height="1.1" fill="#98f6e0"/>
<ellipse cx="68.5" cy="251.9" rx="3.2" ry="3.3" fill="#0303f7"/>
<ellipse cx="74.7" cy="251.9" rx="3.2" ry="3.3" fill="#e8141c"/>
<ellipse cx="80.8" cy="251.9" rx="3.2" ry="3.3" fill="#0303f7"/>
<ellipse cx="86.8" cy="251.9" rx="3.2" ry="3.3" fill="#0303f7"/>
<ellipse cx="93.3" cy="251.9" rx="3.2" ry="3.3" fill="#0303f7"/>
<ellipse cx="100.0" cy="251.9" rx="3.2" ry="3.3" fill="#0303f7"/>
<ellipse cx="106.0" cy="251.9" rx="3.2" ry="3.3" fill="#0303f7"/>
<ellipse cx="112.0" cy="251.9" rx="3.2" ry="3.3" fill="#e8141c"/>
<ellipse cx="118.0" cy="251.9" rx="3.2" ry="3.3" fill="#e8141c"/>
<ellipse cx="122.5" cy="251.9" rx="3.2" ry="3.3" fill="#0303f7"/>
<ellipse cx="127.0" cy="251.9" rx="3.2" ry="3.3" fill="#e8141c"/>
<ellipse cx="132.5" cy="251.9" rx="3.2" ry="3.3" fill="#0303f7"/>
<ellipse cx="138.5" cy="251.9" rx="3.2" ry="3.3" fill="#e8141c"/>
<ellipse cx="64.5" cy="251.9" rx="1.5" ry="3.0" fill="#0303f7"/>
<path d="M64.5,210.2H96" stroke="#dfe" stroke-width="0.8" stroke-dasharray="1.2 1.6" fill="none"/>
<path d="M67.8,210.2a2.8,3.6 0 0 1 5.6,0Z" fill="#e8141c"/>
<path d="M75.9,210.2a2.8,3.6 0 0 1 5.6,0Z" fill="#e8141c"/>
<path d="M82.8,210.2a2.8,3.6 0 0 1 5.6,0Z" fill="#e8141c"/>
<ellipse cx="92.0" cy="213.4" rx="1.8" ry="3.5" fill="#e8141c"/>
<ellipse cx="104.7" cy="213.4" rx="1.8" ry="3.5" fill="#e8141c"/>
<ellipse cx="111.6" cy="213.4" rx="1.8" ry="3.5" fill="#e8141c"/>
<ellipse cx="118.5" cy="213.4" rx="1.8" ry="3.5" fill="#e8141c"/>
<ellipse cx="97.0" cy="209.5" rx="0.7" ry="1.1" fill="#e8e8ff"/>
<ellipse cx="108.0" cy="209.5" rx="0.7" ry="1.1" fill="#e8e8ff"/>
<ellipse cx="115.0" cy="209.5" rx="0.7" ry="1.1" fill="#e8e8ff"/>
<rect x="64.0" y="270.7" width="104.0" height="9.8" fill="#0303f7"/>
<ellipse cx="157.6" cy="274.8" rx="2.1" ry="3.6" fill="#e8141c"/>
</g>
<ellipse cx="70.0" cy="35.0" rx="1.0" ry="1.5" fill="#e8141c"/>
<ellipse cx="66.6" cy="61.5" rx="0.8" ry="1.0" fill="#e8141c"/>
<ellipse cx="69.8" cy="70.8" rx="2.3" ry="1.8" fill="#e8141c"/>
<ellipse cx="78.7" cy="70.8" rx="1.0" ry="1.3" fill="#e8141c"/>
<ellipse cx="77.0" cy="80.2" rx="1.6" ry="2.2" fill="#e8141c"/>
<ellipse cx="67.2" cy="88.0" rx="2.0" ry="3.2" fill="#e8141c"/>
<ellipse cx="79.0" cy="88.6" rx="1.0" ry="1.5" fill="#e8141c"/>
<ellipse cx="71.8" cy="106.3" rx="2.0" ry="2.6" fill="#e8141c"/>
<ellipse cx="79.9" cy="106.3" rx="3.0" ry="2.5" fill="#e8141c"/>
<ellipse cx="68.3" cy="118.5" rx="3.0" ry="2.5" fill="#e8141c"/>
<ellipse cx="77.0" cy="117.9" rx="1.0" ry="1.5" fill="#e8141c"/>
<ellipse cx="70.0" cy="127.7" rx="1.6" ry="1.6" fill="#e8141c"/>
<ellipse cx="76.0" cy="127.7" rx="2.1" ry="2.1" fill="#e8141c"/>
<ellipse cx="82.8" cy="131.1" rx="2.0" ry="2.6" fill="#e8141c"/>
<ellipse cx="88.3" cy="127.7" rx="2.1" ry="2.1" fill="#e8141c"/>
<ellipse cx="92.2" cy="130.2" rx="1.5" ry="2.1" fill="#e8141c"/>
<ellipse cx="85.6" cy="143.8" rx="1.5" ry="2.6" fill="#e8141c"/>
<ellipse cx="92.2" cy="143.8" rx="1.5" ry="2.1" fill="#e8141c"/>
<ellipse cx="71.2" cy="144.4" rx="1.5" ry="2.1" fill="#e8141c"/>
<ellipse cx="71.8" cy="150.6" rx="1.7" ry="1.7" fill="#e8141c"/>
<ellipse cx="81.0" cy="150.7" rx="1.1" ry="1.5" fill="#e8141c"/>
<ellipse cx="95.4" cy="150.2" rx="1.5" ry="2.5" fill="#e8141c"/>
<ellipse cx="83.9" cy="153.5" rx="3.5" ry="2.3" fill="#e8141c"/>
<ellipse cx="72.5" cy="153.2" rx="2.0" ry="1.7" fill="#e8141c"/>
<ellipse cx="79.0" cy="88.6" rx="0.8" ry="1.2" fill="#f0c030"/>
<path d="M66,141.5h8M67,146.8h7" stroke="#dde" stroke-width="0.7" stroke-dasharray="1 1.3"/>
<circle cx="111.6" cy="186.3" r="1.4" fill="#3050e0" stroke="#0a0ab0" stroke-width="0.8"/>
<circle cx="115.0" cy="200.7" r="1.4" fill="#3050e0" stroke="#0a0ab0" stroke-width="0.8"/>
<path d="M167.3,271.5L168.9,275.0M172.4,278.8L173.7,282.4M180.2,283.7L181.2,286.6M182.7,292.3L186.6,293.8M189.6,297.6L191.5,299.4M195.1,304.0L197.0,304.9M201.1,307.3L203.5,310.8M206.4,313.2L210.2,314.4M212.0,319.6L214.3,319.9M217.3,324.7L219.7,325.5M222.1,329.0L226.0,330.5M228.8,332.6L231.2,334.9M235.7,334.2L238.9,337.2M239.8,340.7L243.8,342.1M247.6,343.2L250.0,343.6M253.9,345.1L256.2,346.7M259.4,348.3L262.9,349.5M264.9,351.7L268.5,353.5M271.4,354.3L273.9,356.3M276.8,357.3L281.3,357.2M282.0,361.8L286.1,361.6" stroke="#1428c8" stroke-width="1.3" stroke-linecap="round" fill="none" opacity="0.8"/>
<circle cx="89.1" cy="118.5" r="0.9" fill="#05058a"/>
<circle cx="66.5" cy="124.0" r="0.9" fill="#05058a"/>
<circle cx="74.0" cy="137.0" r="0.9" fill="#05058a"/>
<circle cx="67.0" cy="133.0" r="0.9" fill="#05058a"/>
<circle cx="101.0" cy="196.0" r="0.9" fill="#05058a"/>
<circle cx="104.0" cy="208.0" r="0.9" fill="#05058a"/>
<circle cx="99.0" cy="222.0" r="0.9" fill="#05058a"/>
<circle cx="120.0" cy="232.0" r="0.9" fill="#05058a"/>
<circle cx="131.0" cy="243.0" r="0.9" fill="#05058a"/>
<circle cx="108.0" cy="190.0" r="0.9" fill="#05058a"/>
<circle cx="86.0" cy="158.0" r="0.9" fill="#05058a"/>
<circle cx="90.0" cy="112.0" r="0.9" fill="#05058a"/>
<circle cx="73.0" cy="98.0" r="0.9" fill="#05058a"/><path d="M300.4,263.2 L343.5,263.2 L343.5,284.0 L296.0,284.0 L296.0,276.0 L312.0,272.0 Z" fill="#98f6e0"/>
<path d="M300.4,264.2L311,271" stroke="#134" stroke-width="0.7" fill="none"/>
<path d="M262.0,275.6 L266.0,274.2 L343.5,274.6 L343.5,279.6 L300.0,279.4 L272.0,277.6 L264.0,277.0 Z" fill="#3560f0"/>
<path d="M265,274.4H343" stroke="#0a1290" stroke-width="1.2" stroke-dasharray="9 3" fill="none"/>
<path d="M268,277.4L300,279.5H343" stroke="#0a1290" stroke-width="1.2" stroke-dasharray="7 4" fill="none"/>
<path d="M284.0,292.0 L286.6,285.4 L289.2,292.8 L291.8,286.2 L294.4,293.6 L297.0,287.0 L299.6,294.4 L302.2,287.8 L304.8,295.2 L307.4,288.6 L310.0,296.0 L312.6,289.3 L315.2,296.7 L317.8,290.1 L320.4,297.5 L323.0,290.9 L325.6,298.3 L328.2,291.7 L330.8,299.1 L333.4,292.5 L336.0,299.9" stroke="#1a30e2" stroke-width="3.3" stroke-linejoin="round" fill="none"/>
<path d="M284.0,293.5 L286.6,286.9 L289.2,294.3 L291.8,287.7 L294.4,295.1 L297.0,288.5 L299.6,295.9 L302.2,289.3 L304.8,296.7 L307.4,290.1 L310.0,297.5 L312.6,290.8 L315.2,298.2 L317.8,291.6 L320.4,299.0 L323.0,292.4 L325.6,299.8 L328.2,293.2 L330.8,300.6 L333.4,294.0 L336.0,301.4" stroke="#0a1290" stroke-width="1.0" stroke-linejoin="round" fill="none" stroke-dasharray="4 3"/>
<path d="M334.0,284.0 L343.5,284.0 L343.5,306.0 L338.0,303.5 L334.0,297.0 Z" fill="#3560f0"/>
<path d="M343.5,301.3 L421.5,301.3 L421.5,310.0 L412.0,311.0 L407.9,307.6 L403.8,311.0 L399.7,307.6 L395.6,311.0 L391.5,307.6 L387.4,311.0 L383.3,307.6 L379.2,311.0 L375.1,307.6 L371.0,311.0 L366.9,307.6 L362.8,311.0 L358.7,307.6 L354.6,311.0 L350.5,307.6 L345.0,306.0 Z" fill="#3560f0"/>
<path d="M412.0,311.0 L407.9,307.6 L403.8,311.0 L399.7,307.6 L395.6,311.0 L391.5,307.6 L387.4,311.0 L383.3,307.6 L379.2,311.0 L375.1,307.6 L371.0,311.0 L366.9,307.6 L362.8,311.0 L358.7,307.6 L354.6,311.0 L350.5,307.6 L345.0,306.0" stroke="#0a1290" stroke-width="1.1" fill="none" stroke-dasharray="6 3"/>
<path d="M252,263H343.5V306" stroke="#06103a" stroke-width="1.3" fill="none"/>
<path d="M343.5,301.3H421.5" stroke="#06103a" stroke-width="1.0" stroke-dasharray="8 3" fill="none"/>
<path d="M421.7,309.5V332L418,336l-3,-5" stroke="#000" stroke-width="1.3" fill="none"/>
<linearGradient id="gc" x1="0" y1="312" x2="0" y2="333" gradientUnits="userSpaceOnUse"><stop offset="0" stop-color="#1626ee"/><stop offset="0.55" stop-color="#3560f0"/><stop offset="1" stop-color="#6ea4f6"/></linearGradient>
<path d="M421.7,309.0 L517.0,321.2 L517.0,332.0 L421.7,331.5 Z" fill="url(#gc)"/>
<path d="M430,332.4H517" stroke="#000" stroke-width="2.2" stroke-dasharray="11 12" stroke-dashoffset="-8" fill="none"/>
<path d="M436,336l4,-5l4,5" stroke="#000" stroke-width="1.2" fill="none"/>
<path d="M421.7,309L517.5,321.3" stroke="#0c12d8" stroke-width="1.4" fill="none"/>
</g>
<g fill="#111" class="k"><rect x="423.8" y="7.6" width="93.4" height="189.9" fill="#fff"/>
<rect x="435.3" y="18.8" width="59.2" height="260" fill="#fff" stroke="#8a8a8a" stroke-width="0.8"/>
<rect x="440.2" y="43.20" width="19.8" height="8.07" fill="#de0a12"/>
<rect x="440.2" y="51.23" width="19.8" height="16.10" fill="#e14f19"/>
<rect x="440.2" y="67.28" width="19.8" height="16.10" fill="#ee9329"/>
<rect x="440.2" y="83.33" width="19.8" height="16.10" fill="#fad636"/>
<rect x="440.2" y="99.38" width="19.8" height="16.10" fill="#e6fa38"/>
<rect x="440.2" y="115.42" width="19.8" height="16.10" fill="#b4f834"/>
<rect x="440.2" y="131.47" width="19.8" height="16.10" fill="#98f83c"/>
<rect x="440.2" y="147.53" width="19.8" height="16.10" fill="#8cf846"/>
<rect x="440.2" y="163.58" width="19.8" height="16.10" fill="#94fa52"/>
<rect x="440.2" y="179.63" width="19.8" height="16.10" fill="#8cf890"/>
<rect x="440.2" y="195.68" width="19.8" height="16.10" fill="#98f6e0"/>
<rect x="440.2" y="211.73" width="19.8" height="16.10" fill="#80d0f8"/>
<rect x="440.2" y="227.78" width="19.8" height="16.10" fill="#4f86f0"/>
<rect x="440.2" y="243.83" width="19.8" height="16.10" fill="#2a4cec"/>
<rect x="440.2" y="259.88" width="19.8" height="8.07" fill="#0303f7"/>
<path d="M440.2,51.23h19.8" stroke="#333" stroke-opacity="0.55" stroke-width="0.6"/>
<text x="470.3" y="58.4" font-size="14">35</text>
<path d="M440.2,67.28h19.8" stroke="#333" stroke-opacity="0.55" stroke-width="0.6"/>
<text x="470.3" y="74.5" font-size="14">30</text>
<path d="M440.2,83.33h19.8" stroke="#333" stroke-opacity="0.55" stroke-width="0.6"/>
<text x="470.3" y="90.5" font-size="14">25</text>
<path d="M440.2,99.38h19.8" stroke="#333" stroke-opacity="0.55" stroke-width="0.6"/>
<text x="470.3" y="106.6" font-size="14">20</text>
<path d="M440.2,115.42h19.8" stroke="#333" stroke-opacity="0.55" stroke-width="0.6"/>
<text x="470.3" y="122.6" font-size="14">15</text>
<path d="M440.2,131.47h19.8" stroke="#333" stroke-opacity="0.55" stroke-width="0.6"/>
<text x="470.3" y="138.7" font-size="14">10</text>
<path d="M440.2,147.53h19.8" stroke="#333" stroke-opacity="0.55" stroke-width="0.6"/>
<text x="474.3" y="154.7" font-size="14">5</text>
<path d="M440.2,163.58h19.8" stroke="#333" stroke-opacity="0.55" stroke-width="0.6"/>
<text x="474.3" y="170.8" font-size="14">0</text>
<path d="M440.2,179.63h19.8" stroke="#333" stroke-opacity="0.55" stroke-width="0.6"/>
<text x="466.3" y="186.8" font-size="14">-5</text>
<path d="M440.2,195.68h19.8" stroke="#333" stroke-opacity="0.55" stroke-width="0.6"/>
<text x="466.3" y="202.9" font-size="14">-10</text>
<path d="M440.2,211.73h19.8" stroke="#333" stroke-opacity="0.55" stroke-width="0.6"/>
<text x="466.3" y="218.9" font-size="14">-15</text>
<path d="M440.2,227.78h19.8" stroke="#333" stroke-opacity="0.55" stroke-width="0.6"/>
<text x="466.3" y="235.0" font-size="14">-20</text>
<path d="M440.2,243.83h19.8" stroke="#333" stroke-opacity="0.55" stroke-width="0.6"/>
<text x="466.3" y="251.0" font-size="14">-25</text>
<path d="M440.2,259.88h19.8" stroke="#333" stroke-opacity="0.55" stroke-width="0.6"/>
<text x="466.3" y="267.1" font-size="14">-30</text>
<text x="440.8" y="35.8" font-size="13.6">-α<tspan font-size="8.5" dy="3">i</tspan><tspan dy="-3"> (1/m)</tspan></text></g>
<g stroke="#000" fill="none"><path d="M66.0,419.3v-5.6M66.0,7.6v5.6" stroke-width="1.0"/><path d="M89.8,419.3v-5.6M89.8,7.6v5.6" stroke-width="1.0"/><path d="M113.5,419.3v-5.6M113.5,7.6v5.6" stroke-width="1.0"/><path d="M137.3,419.3v-9.8M137.3,7.6v9.8" stroke-width="1.5"/><path d="M161.1,419.3v-5.6M161.1,7.6v5.6" stroke-width="1.0"/><path d="M184.9,419.3v-5.6M184.9,7.6v5.6" stroke-width="1.0"/><path d="M208.6,419.3v-5.6M208.6,7.6v5.6" stroke-width="1.0"/><path d="M232.4,419.3v-9.8M232.4,7.6v9.8" stroke-width="1.5"/><path d="M256.2,419.3v-5.6M256.2,7.6v5.6" stroke-width="1.0"/><path d="M280.0,419.3v-5.6M280.0,7.6v5.6" stroke-width="1.0"/><path d="M303.7,419.3v-5.6M303.7,7.6v5.6" stroke-width="1.0"/><path d="M327.5,419.3v-9.8M327.5,7.6v9.8" stroke-width="1.5"/><path d="M351.3,419.3v-5.6M351.3,7.6v5.6" stroke-width="1.0"/><path d="M375.1,419.3v-5.6M375.1,7.6v5.6" stroke-width="1.0"/><path d="M398.8,419.3v-5.6M398.8,7.6v5.6" stroke-width="1.0"/><path d="M422.6,419.3v-9.8M422.6,7.6v9.8" stroke-width="1.5"/><path d="M446.4,419.3v-5.6M446.4,7.6v5.6" stroke-width="1.0"/><path d="M470.1,419.3v-5.6M470.1,7.6v5.6" stroke-width="1.0"/><path d="M493.9,419.3v-5.6M493.9,7.6v5.6" stroke-width="1.0"/><path d="M64.3,413.6h5.6" stroke-width="1.0"/><path d="M517.2,413.6h-5.6" stroke-width="1.0"/><path d="M64.3,400.9h5.6" stroke-width="1.0"/><path d="M517.2,400.9h-5.6" stroke-width="1.0"/><path d="M64.3,388.3h9.8" stroke-width="1.5"/><path d="M517.2,388.3h-9.8" stroke-width="1.5"/><path d="M64.3,375.7h5.6" stroke-width="1.0"/><path d="M517.2,375.7h-5.6" stroke-width="1.0"/><path d="M64.3,363.0h5.6" stroke-width="1.0"/><path d="M517.2,363.0h-5.6" stroke-width="1.0"/><path d="M64.3,350.4h5.6" stroke-width="1.0"/><path d="M517.2,350.4h-5.6" stroke-width="1.0"/><path d="M64.3,337.7h5.6" stroke-width="1.0"/><path d="M517.2,337.7h-5.6" stroke-width="1.0"/><path d="M64.3,325.1h9.8" stroke-width="1.5"/><path d="M517.2,325.1h-9.8" stroke-width="1.5"/><path d="M64.3,312.4h5.6" stroke-width="1.0"/><path d="M517.2,312.4h-5.6" stroke-width="1.0"/><path d="M64.3,299.8h5.6" stroke-width="1.0"/><path d="M517.2,299.8h-5.6" stroke-width="1.0"/><path d="M64.3,287.1h5.6" stroke-width="1.0"/><path d="M517.2,287.1h-5.6" stroke-width="1.0"/><path d="M64.3,274.4h5.6" stroke-width="1.0"/><path d="M517.2,274.4h-5.6" stroke-width="1.0"/><path d="M64.3,261.8h9.8" stroke-width="1.5"/><path d="M517.2,261.8h-9.8" stroke-width="1.5"/><path d="M64.3,249.2h5.6" stroke-width="1.0"/><path d="M517.2,249.2h-5.6" stroke-width="1.0"/><path d="M64.3,236.5h5.6" stroke-width="1.0"/><path d="M517.2,236.5h-5.6" stroke-width="1.0"/><path d="M64.3,223.9h5.6" stroke-width="1.0"/><path d="M517.2,223.9h-5.6" stroke-width="1.0"/><path d="M64.3,211.2h5.6" stroke-width="1.0"/><path d="M517.2,211.2h-5.6" stroke-width="1.0"/><path d="M64.3,198.6h9.8" stroke-width="1.5"/><path d="M517.2,198.6h-9.8" stroke-width="1.5"/><path d="M64.3,185.9h5.6" stroke-width="1.0"/><path d="M517.2,185.9h-5.6" stroke-width="1.0"/><path d="M64.3,173.2h5.6" stroke-width="1.0"/><path d="M517.2,173.2h-5.6" stroke-width="1.0"/><path d="M64.3,160.6h5.6" stroke-width="1.0"/><path d="M517.2,160.6h-5.6" stroke-width="1.0"/><path d="M517.2,148.0h-5.6" stroke-width="1.0"/><path d="M64.3,135.3h9.8" stroke-width="1.5"/><path d="M517.2,135.3h-9.8" stroke-width="1.5"/><path d="M517.2,122.6h-5.6" stroke-width="1.0"/><path d="M517.2,110.0h-5.6" stroke-width="1.0"/><path d="M517.2,97.3h-5.6" stroke-width="1.0"/><path d="M517.2,84.7h-5.6" stroke-width="1.0"/><path d="M64.3,72.0h9.8" stroke-width="1.5"/><path d="M517.2,72.0h-9.8" stroke-width="1.5"/><path d="M517.2,59.4h-5.6" stroke-width="1.0"/><path d="M517.2,46.8h-5.6" stroke-width="1.0"/><path d="M517.2,34.1h-5.6" stroke-width="1.0"/><path d="M517.2,21.5h-5.6" stroke-width="1.0"/><path d="M64.3,8.8h9.8" stroke-width="1.5"/><path d="M517.2,8.8h-9.8" stroke-width="1.5"/></g>
<rect x="64.3" y="7.6" width="452.9" height="411.7" fill="none" stroke="#000" stroke-width="1.8"/>
<g fill="none" stroke="#fff" stroke-width="1.8" stroke-linejoin="miter">
<path d="M237.6,260.3V291C252,299.5 266,307.5 280,314.2C300,324 318,333.5 336,341.2C355,347.5 372,352.5 392,357.5C415,364.5 438,371 460,376.2C480,382 498,387.5 515.3,392.4V341.6C485,336 455,330 425,323.8C395,317.5 365,311.5 335,303.8C313,296 294,287 275,277C262,271 250,265.5 237.6,260.3Z" stroke-linejoin="round"/>
<path d="M253.5,196.7L231.3,255.6"/>
<path d="M231.9,242.3L230.8,256.9L239.7,245.3" stroke-width="1.5"/>
</g>
<g><text x="208.6" y="189.6" font-size="12.4" textLength="141" lengthAdjust="spacingAndGlyphs" fill="#fff">Supersonic Mode Onset</text>
<text x="334.4" y="296" font-size="14.3" textLength="177" lengthAdjust="spacingAndGlyphs" fill="#fff">Supersonic Mode Region</text></g>
<g fill="#111" class="k"><text x="23.8" y="13.4" font-size="14.2" textLength="34.6" lengthAdjust="spacingAndGlyphs">1600</text>
<text x="23.8" y="76.6" font-size="14.2" textLength="34.6" lengthAdjust="spacingAndGlyphs">1400</text>
<text x="23.8" y="139.9" font-size="14.2" textLength="34.6" lengthAdjust="spacingAndGlyphs">1200</text>
<text x="23.8" y="203.2" font-size="14.2" textLength="34.6" lengthAdjust="spacingAndGlyphs">1000</text>
<text x="32.4" y="266.4" font-size="14.2" textLength="26.0" lengthAdjust="spacingAndGlyphs">800</text>
<text x="32.4" y="329.7" font-size="14.2" textLength="26.0" lengthAdjust="spacingAndGlyphs">600</text>
<text x="32.4" y="392.9" font-size="14.2" textLength="26.0" lengthAdjust="spacingAndGlyphs">400</text>
<text x="126.7" y="436.8" font-size="14.2" textLength="21.8" lengthAdjust="spacingAndGlyphs">0.2</text>
<text x="221.8" y="436.8" font-size="14.2" textLength="21.8" lengthAdjust="spacingAndGlyphs">0.4</text>
<text x="316.9" y="436.8" font-size="14.2" textLength="21.8" lengthAdjust="spacingAndGlyphs">0.6</text>
<text x="412.0" y="436.8" font-size="14.2" textLength="21.8" lengthAdjust="spacingAndGlyphs">0.8</text>
<text x="267" y="454.2" font-size="18.4" textLength="46.5" lengthAdjust="spacingAndGlyphs" font-weight="bold">s (m)</text>
<text transform="translate(16.6,260.6) rotate(-90) scale(1,1.1)" font-size="18.5" font-weight="bold">f (kHz)</text></g>
</svg>
</body></html>
